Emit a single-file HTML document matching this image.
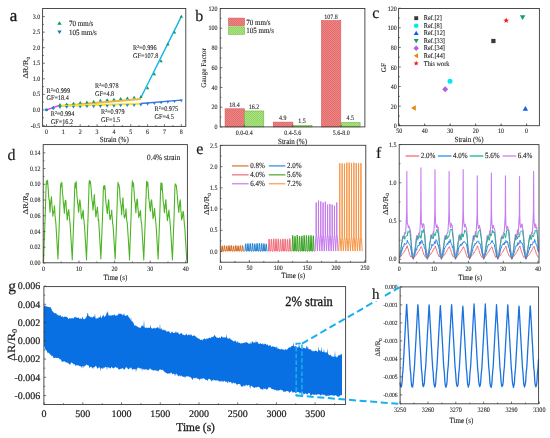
<!DOCTYPE html>
<html><head><meta charset="utf-8"><style>
html,body{margin:0;padding:0;background:#fff;width:550px;height:438px;overflow:hidden;}
svg{display:block;will-change:transform;}
text{font-family:"Liberation Serif", serif;text-rendering:geometricPrecision;}
</style></head><body>
<svg width="550" height="438" viewBox="0 0 550 438">
<defs>
<pattern id="hr" width="2" height="2" patternUnits="userSpaceOnUse"><rect width="2" height="2" fill="#ee8686"/><rect width="1" height="1" fill="#e26c6c"/><rect x="1" y="1" width="1" height="1" fill="#e26c6c"/></pattern>
<pattern id="hg" width="2" height="2" patternUnits="userSpaceOnUse"><rect width="2" height="2" fill="#ace482"/><rect width="1" height="1" fill="#92d266"/><rect x="1" y="1" width="1" height="1" fill="#92d266"/></pattern>
</defs>
<polyline points="46.50,109.90 59.98,105.23" fill="none" stroke="#e83ee8" stroke-width="1.4" stroke-linejoin="round"/>
<polyline points="59.98,106.01 140.86,99.02" fill="none" stroke="#f4b040" stroke-width="1.8" stroke-linejoin="round"/>
<polyline points="59.98,106.01 140.86,103.68" fill="none" stroke="#f2e43a" stroke-width="1.9" stroke-linejoin="round"/>
<polyline points="140.86,97.77 181.30,16.60" fill="none" stroke="#10b4ea" stroke-width="1.4" stroke-linejoin="round"/>
<polyline points="140.86,103.52 181.30,100.10" fill="none" stroke="#4a6cf0" stroke-width="1.4" stroke-linejoin="round"/>
<path d="M44.80,111.00 L48.20,111.00 L46.50,108.10Z" fill="#0e9a6a"/>
<path d="M51.54,108.40 L54.94,108.40 L53.24,105.50Z" fill="#0e9a6a"/>
<path d="M58.28,105.81 L61.68,105.81 L59.98,102.91Z" fill="#0e9a6a"/>
<path d="M65.02,105.32 L68.42,105.32 L66.72,102.42Z" fill="#0e9a6a"/>
<path d="M71.76,104.59 L75.16,104.59 L73.46,101.69Z" fill="#0e9a6a"/>
<path d="M78.50,103.79 L81.90,103.79 L80.20,100.89Z" fill="#0e9a6a"/>
<path d="M85.24,103.52 L88.64,103.52 L86.94,100.62Z" fill="#0e9a6a"/>
<path d="M91.98,102.72 L95.38,102.72 L93.68,99.82Z" fill="#0e9a6a"/>
<path d="M98.72,101.62 L102.12,101.62 L100.42,98.72Z" fill="#0e9a6a"/>
<path d="M105.46,101.07 L108.86,101.07 L107.16,98.17Z" fill="#0e9a6a"/>
<path d="M112.20,100.54 L115.60,100.54 L113.90,97.64Z" fill="#0e9a6a"/>
<path d="M118.94,99.90 L122.34,99.90 L120.64,97.00Z" fill="#0e9a6a"/>
<path d="M125.68,99.32 L129.08,99.32 L127.38,96.42Z" fill="#0e9a6a"/>
<path d="M132.42,98.58 L135.82,98.58 L134.12,95.68Z" fill="#0e9a6a"/>
<path d="M139.16,97.94 L142.56,97.94 L140.86,95.04Z" fill="#0e9a6a"/>
<path d="M145.90,89.23 L149.30,89.23 L147.60,86.33Z" fill="#0e9a6a"/>
<path d="M152.64,75.23 L156.04,75.23 L154.34,72.34Z" fill="#0e9a6a"/>
<path d="M159.38,62.17 L162.78,62.17 L161.08,59.27Z" fill="#0e9a6a"/>
<path d="M166.12,45.38 L169.52,45.38 L167.82,42.48Z" fill="#0e9a6a"/>
<path d="M172.86,33.56 L176.26,33.56 L174.56,30.66Z" fill="#0e9a6a"/>
<path d="M179.60,17.70 L183.00,17.70 L181.30,14.80Z" fill="#0e9a6a"/>
<path d="M44.80,108.80 L48.20,108.80 L46.50,111.70Z" fill="#1a84d8"/>
<path d="M51.54,107.45 L54.94,107.45 L53.24,110.35Z" fill="#1a84d8"/>
<path d="M58.28,106.09 L61.68,106.09 L59.98,108.99Z" fill="#1a84d8"/>
<path d="M65.02,105.89 L68.42,105.89 L66.72,108.79Z" fill="#1a84d8"/>
<path d="M71.76,105.68 L75.16,105.68 L73.46,108.58Z" fill="#1a84d8"/>
<path d="M78.50,105.70 L81.90,105.70 L80.20,108.60Z" fill="#1a84d8"/>
<path d="M85.24,105.22 L88.64,105.22 L86.94,108.12Z" fill="#1a84d8"/>
<path d="M91.98,105.26 L95.38,105.26 L93.68,108.16Z" fill="#1a84d8"/>
<path d="M98.72,104.99 L102.12,104.99 L100.42,107.89Z" fill="#1a84d8"/>
<path d="M105.46,104.80 L108.86,104.80 L107.16,107.70Z" fill="#1a84d8"/>
<path d="M112.20,104.73 L115.60,104.73 L113.90,107.63Z" fill="#1a84d8"/>
<path d="M118.94,104.28 L122.34,104.28 L120.64,107.18Z" fill="#1a84d8"/>
<path d="M125.68,104.14 L129.08,104.14 L127.38,107.04Z" fill="#1a84d8"/>
<path d="M132.42,104.20 L135.82,104.20 L134.12,107.10Z" fill="#1a84d8"/>
<path d="M139.16,103.51 L142.56,103.51 L140.86,106.41Z" fill="#1a84d8"/>
<path d="M145.90,102.83 L149.30,102.83 L147.60,105.73Z" fill="#1a84d8"/>
<path d="M152.64,102.14 L156.04,102.14 L154.34,105.04Z" fill="#1a84d8"/>
<path d="M159.38,101.46 L162.78,101.46 L161.08,104.36Z" fill="#1a84d8"/>
<path d="M166.12,100.78 L169.52,100.78 L167.82,103.68Z" fill="#1a84d8"/>
<path d="M172.86,100.09 L176.26,100.09 L174.56,102.99Z" fill="#1a84d8"/>
<path d="M179.60,99.41 L183.00,99.41 L181.30,102.31Z" fill="#1a84d8"/>
<rect x="42.60" y="8.50" width="143.20" height="117.90" fill="none" stroke="#3a3a3a" stroke-width="0.9"/>
<line x1="46.50" y1="126.40" x2="46.50" y2="124.20" stroke="#3a3a3a" stroke-width="0.7"/>
<line x1="63.35" y1="126.40" x2="63.35" y2="124.20" stroke="#3a3a3a" stroke-width="0.7"/>
<line x1="80.20" y1="126.40" x2="80.20" y2="124.20" stroke="#3a3a3a" stroke-width="0.7"/>
<line x1="97.05" y1="126.40" x2="97.05" y2="124.20" stroke="#3a3a3a" stroke-width="0.7"/>
<line x1="113.90" y1="126.40" x2="113.90" y2="124.20" stroke="#3a3a3a" stroke-width="0.7"/>
<line x1="130.75" y1="126.40" x2="130.75" y2="124.20" stroke="#3a3a3a" stroke-width="0.7"/>
<line x1="147.60" y1="126.40" x2="147.60" y2="124.20" stroke="#3a3a3a" stroke-width="0.7"/>
<line x1="164.45" y1="126.40" x2="164.45" y2="124.20" stroke="#3a3a3a" stroke-width="0.7"/>
<line x1="181.30" y1="126.40" x2="181.30" y2="124.20" stroke="#3a3a3a" stroke-width="0.7"/>
<line x1="54.92" y1="126.40" x2="54.92" y2="125.10" stroke="#3a3a3a" stroke-width="0.7"/>
<line x1="71.78" y1="126.40" x2="71.78" y2="125.10" stroke="#3a3a3a" stroke-width="0.7"/>
<line x1="88.62" y1="126.40" x2="88.62" y2="125.10" stroke="#3a3a3a" stroke-width="0.7"/>
<line x1="105.48" y1="126.40" x2="105.48" y2="125.10" stroke="#3a3a3a" stroke-width="0.7"/>
<line x1="122.33" y1="126.40" x2="122.33" y2="125.10" stroke="#3a3a3a" stroke-width="0.7"/>
<line x1="139.18" y1="126.40" x2="139.18" y2="125.10" stroke="#3a3a3a" stroke-width="0.7"/>
<line x1="156.03" y1="126.40" x2="156.03" y2="125.10" stroke="#3a3a3a" stroke-width="0.7"/>
<line x1="172.88" y1="126.40" x2="172.88" y2="125.10" stroke="#3a3a3a" stroke-width="0.7"/>
<line x1="42.60" y1="125.45" x2="44.80" y2="125.45" stroke="#3a3a3a" stroke-width="0.7"/>
<line x1="42.60" y1="109.90" x2="44.80" y2="109.90" stroke="#3a3a3a" stroke-width="0.7"/>
<line x1="42.60" y1="94.35" x2="44.80" y2="94.35" stroke="#3a3a3a" stroke-width="0.7"/>
<line x1="42.60" y1="78.80" x2="44.80" y2="78.80" stroke="#3a3a3a" stroke-width="0.7"/>
<line x1="42.60" y1="63.25" x2="44.80" y2="63.25" stroke="#3a3a3a" stroke-width="0.7"/>
<line x1="42.60" y1="47.70" x2="44.80" y2="47.70" stroke="#3a3a3a" stroke-width="0.7"/>
<line x1="42.60" y1="32.15" x2="44.80" y2="32.15" stroke="#3a3a3a" stroke-width="0.7"/>
<line x1="42.60" y1="16.60" x2="44.80" y2="16.60" stroke="#3a3a3a" stroke-width="0.7"/>
<line x1="42.60" y1="117.68" x2="43.90" y2="117.68" stroke="#3a3a3a" stroke-width="0.7"/>
<line x1="42.60" y1="102.12" x2="43.90" y2="102.12" stroke="#3a3a3a" stroke-width="0.7"/>
<line x1="42.60" y1="86.58" x2="43.90" y2="86.58" stroke="#3a3a3a" stroke-width="0.7"/>
<line x1="42.60" y1="71.03" x2="43.90" y2="71.03" stroke="#3a3a3a" stroke-width="0.7"/>
<line x1="42.60" y1="55.48" x2="43.90" y2="55.48" stroke="#3a3a3a" stroke-width="0.7"/>
<line x1="42.60" y1="39.92" x2="43.90" y2="39.92" stroke="#3a3a3a" stroke-width="0.7"/>
<line x1="42.60" y1="24.38" x2="43.90" y2="24.38" stroke="#3a3a3a" stroke-width="0.7"/>
<text transform="translate(46.50 133.50) scale(1 1.13)" font-size="6" text-anchor="middle" fill="#1a1a1a" stroke="#1a1a1a" stroke-width="0.084">0</text>
<text transform="translate(63.35 133.50) scale(1 1.13)" font-size="6" text-anchor="middle" fill="#1a1a1a" stroke="#1a1a1a" stroke-width="0.084">1</text>
<text transform="translate(80.20 133.50) scale(1 1.13)" font-size="6" text-anchor="middle" fill="#1a1a1a" stroke="#1a1a1a" stroke-width="0.084">2</text>
<text transform="translate(97.05 133.50) scale(1 1.13)" font-size="6" text-anchor="middle" fill="#1a1a1a" stroke="#1a1a1a" stroke-width="0.084">3</text>
<text transform="translate(113.90 133.50) scale(1 1.13)" font-size="6" text-anchor="middle" fill="#1a1a1a" stroke="#1a1a1a" stroke-width="0.084">4</text>
<text transform="translate(130.75 133.50) scale(1 1.13)" font-size="6" text-anchor="middle" fill="#1a1a1a" stroke="#1a1a1a" stroke-width="0.084">5</text>
<text transform="translate(147.60 133.50) scale(1 1.13)" font-size="6" text-anchor="middle" fill="#1a1a1a" stroke="#1a1a1a" stroke-width="0.084">6</text>
<text transform="translate(164.45 133.50) scale(1 1.13)" font-size="6" text-anchor="middle" fill="#1a1a1a" stroke="#1a1a1a" stroke-width="0.084">7</text>
<text transform="translate(181.30 133.50) scale(1 1.13)" font-size="6" text-anchor="middle" fill="#1a1a1a" stroke="#1a1a1a" stroke-width="0.084">8</text>
<text transform="translate(40.20 127.55) scale(1 1.13)" font-size="6" text-anchor="end" fill="#1a1a1a" stroke="#1a1a1a" stroke-width="0.084">-0.5</text>
<text transform="translate(40.20 112.00) scale(1 1.13)" font-size="6" text-anchor="end" fill="#1a1a1a" stroke="#1a1a1a" stroke-width="0.084">0.0</text>
<text transform="translate(40.20 96.45) scale(1 1.13)" font-size="6" text-anchor="end" fill="#1a1a1a" stroke="#1a1a1a" stroke-width="0.084">0.5</text>
<text transform="translate(40.20 80.90) scale(1 1.13)" font-size="6" text-anchor="end" fill="#1a1a1a" stroke="#1a1a1a" stroke-width="0.084">1.0</text>
<text transform="translate(40.20 65.35) scale(1 1.13)" font-size="6" text-anchor="end" fill="#1a1a1a" stroke="#1a1a1a" stroke-width="0.084">1.5</text>
<text transform="translate(40.20 49.80) scale(1 1.13)" font-size="6" text-anchor="end" fill="#1a1a1a" stroke="#1a1a1a" stroke-width="0.084">2.0</text>
<text transform="translate(40.20 34.25) scale(1 1.13)" font-size="6" text-anchor="end" fill="#1a1a1a" stroke="#1a1a1a" stroke-width="0.084">2.5</text>
<text transform="translate(40.20 18.70) scale(1 1.13)" font-size="6" text-anchor="end" fill="#1a1a1a" stroke="#1a1a1a" stroke-width="0.084">3.0</text>
<text transform="translate(114.30 142.20) scale(1 1.13)" font-size="7" text-anchor="middle" fill="#1a1a1a" stroke="#1a1a1a" stroke-width="0.098">Strain (%)</text>
<text transform="translate(28.00 67.70) rotate(-90) scale(1.13 1)" font-size="7.5" text-anchor="middle" fill="#1a1a1a" stroke="#1a1a1a" stroke-width="0.105">ΔR/R<tspan font-size="4.8" dy="1.6">0</tspan></text>
<text transform="translate(9.80 21.00) scale(1 1.0)" font-size="17" text-anchor="start" fill="#1a1a1a" stroke="#1a1a1a" stroke-width="0.340">a</text>
<path d="M57.3,24.7 L61.7,24.7 L59.5,21.3Z" fill="#0e9a5a"/>
<path d="M57.3,30.5 L61.7,30.5 L59.5,34.1Z" fill="#1878c8"/>
<text transform="translate(69.00 26.00) scale(1 1.13)" font-size="7" text-anchor="start" fill="#1a1a1a" stroke="#1a1a1a" stroke-width="0.098">70 mm/s</text>
<text transform="translate(69.00 34.70) scale(1 1.13)" font-size="7" text-anchor="start" fill="#1a1a1a" stroke="#1a1a1a" stroke-width="0.098">105 mm/s</text>
<text transform="translate(46.50 93.00) scale(1 1.13)" font-size="6.2" text-anchor="start" fill="#1a1a1a" stroke="#1a1a1a" stroke-width="0.087">R<tspan font-size="3.8" dy="-2.2">2</tspan><tspan dy="2.2">=</tspan>0.999</text>
<text transform="translate(46.50 100.30) scale(1 1.13)" font-size="6.2" text-anchor="start" fill="#1a1a1a" stroke="#1a1a1a" stroke-width="0.087">GF=18.4</text>
<text transform="translate(50.80 116.30) scale(1 1.13)" font-size="6.2" text-anchor="start" fill="#1a1a1a" stroke="#1a1a1a" stroke-width="0.087">R<tspan font-size="3.8" dy="-2.2">2</tspan><tspan dy="2.2">=</tspan>0.994</text>
<text transform="translate(50.80 123.60) scale(1 1.13)" font-size="6.2" text-anchor="start" fill="#1a1a1a" stroke="#1a1a1a" stroke-width="0.087">GF=16.2</text>
<text transform="translate(95.00 88.20) scale(1 1.13)" font-size="6.2" text-anchor="start" fill="#1a1a1a" stroke="#1a1a1a" stroke-width="0.087">R<tspan font-size="3.8" dy="-2.2">2</tspan><tspan dy="2.2">=</tspan>0.978</text>
<text transform="translate(95.00 95.80) scale(1 1.13)" font-size="6.2" text-anchor="start" fill="#1a1a1a" stroke="#1a1a1a" stroke-width="0.087">GF=4.8</text>
<text transform="translate(101.00 114.40) scale(1 1.13)" font-size="6.2" text-anchor="start" fill="#1a1a1a" stroke="#1a1a1a" stroke-width="0.087">R<tspan font-size="3.8" dy="-2.2">2</tspan><tspan dy="2.2">=</tspan>0.979</text>
<text transform="translate(101.00 121.70) scale(1 1.13)" font-size="6.2" text-anchor="start" fill="#1a1a1a" stroke="#1a1a1a" stroke-width="0.087">GF=1.5</text>
<text transform="translate(133.00 50.40) scale(1 1.13)" font-size="6.2" text-anchor="start" fill="#1a1a1a" stroke="#1a1a1a" stroke-width="0.087">R<tspan font-size="3.8" dy="-2.2">2</tspan><tspan dy="2.2">=</tspan>0.996</text>
<text transform="translate(133.00 58.20) scale(1 1.13)" font-size="6.2" text-anchor="start" fill="#1a1a1a" stroke="#1a1a1a" stroke-width="0.087">GF=107.8</text>
<text transform="translate(154.60 111.20) scale(1 1.13)" font-size="6.2" text-anchor="start" fill="#1a1a1a" stroke="#1a1a1a" stroke-width="0.087">R<tspan font-size="3.8" dy="-2.2">2</tspan><tspan dy="2.2">=</tspan>0.975</text>
<text transform="translate(154.60 118.60) scale(1 1.13)" font-size="6.2" text-anchor="start" fill="#1a1a1a" stroke="#1a1a1a" stroke-width="0.087">GF=4.5</text>
<rect x="225.10" y="108.79" width="19.40" height="18.11" fill="url(#hr)" stroke="#d85858" stroke-width="0.6"/>
<rect x="244.50" y="110.97" width="19.30" height="15.93" fill="url(#hg)" stroke="#70b840" stroke-width="0.6"/>
<rect x="273.30" y="122.12" width="19.50" height="4.78" fill="url(#hr)" stroke="#d85858" stroke-width="0.6"/>
<rect x="292.80" y="125.47" width="19.20" height="1.43" fill="url(#hg)" stroke="#70b840" stroke-width="0.6"/>
<rect x="321.50" y="20.58" width="19.30" height="106.32" fill="url(#hr)" stroke="#d85858" stroke-width="0.6"/>
<rect x="340.80" y="122.51" width="19.30" height="4.39" fill="url(#hg)" stroke="#70b840" stroke-width="0.6"/>
<rect x="220.20" y="8.50" width="144.70" height="118.40" fill="none" stroke="#3a3a3a" stroke-width="0.9"/>
<line x1="220.20" y1="126.95" x2="222.40" y2="126.95" stroke="#3a3a3a" stroke-width="0.7"/>
<line x1="220.20" y1="107.22" x2="222.40" y2="107.22" stroke="#3a3a3a" stroke-width="0.7"/>
<line x1="220.20" y1="87.48" x2="222.40" y2="87.48" stroke="#3a3a3a" stroke-width="0.7"/>
<line x1="220.20" y1="67.75" x2="222.40" y2="67.75" stroke="#3a3a3a" stroke-width="0.7"/>
<line x1="220.20" y1="48.01" x2="222.40" y2="48.01" stroke="#3a3a3a" stroke-width="0.7"/>
<line x1="220.20" y1="28.28" x2="222.40" y2="28.28" stroke="#3a3a3a" stroke-width="0.7"/>
<line x1="220.20" y1="8.55" x2="222.40" y2="8.55" stroke="#3a3a3a" stroke-width="0.7"/>
<line x1="220.20" y1="117.08" x2="221.50" y2="117.08" stroke="#3a3a3a" stroke-width="0.7"/>
<line x1="220.20" y1="97.35" x2="221.50" y2="97.35" stroke="#3a3a3a" stroke-width="0.7"/>
<line x1="220.20" y1="77.62" x2="221.50" y2="77.62" stroke="#3a3a3a" stroke-width="0.7"/>
<line x1="220.20" y1="57.88" x2="221.50" y2="57.88" stroke="#3a3a3a" stroke-width="0.7"/>
<line x1="220.20" y1="38.15" x2="221.50" y2="38.15" stroke="#3a3a3a" stroke-width="0.7"/>
<line x1="220.20" y1="18.41" x2="221.50" y2="18.41" stroke="#3a3a3a" stroke-width="0.7"/>
<line x1="244.30" y1="126.90" x2="244.30" y2="124.70" stroke="#3a3a3a" stroke-width="0.7"/>
<line x1="292.80" y1="126.90" x2="292.80" y2="124.70" stroke="#3a3a3a" stroke-width="0.7"/>
<line x1="341.20" y1="126.90" x2="341.20" y2="124.70" stroke="#3a3a3a" stroke-width="0.7"/>
<text transform="translate(217.60 129.05) scale(1 1.13)" font-size="6" text-anchor="end" fill="#1a1a1a" stroke="#1a1a1a" stroke-width="0.084">0</text>
<text transform="translate(217.60 109.32) scale(1 1.13)" font-size="6" text-anchor="end" fill="#1a1a1a" stroke="#1a1a1a" stroke-width="0.084">20</text>
<text transform="translate(217.60 89.58) scale(1 1.13)" font-size="6" text-anchor="end" fill="#1a1a1a" stroke="#1a1a1a" stroke-width="0.084">40</text>
<text transform="translate(217.60 69.85) scale(1 1.13)" font-size="6" text-anchor="end" fill="#1a1a1a" stroke="#1a1a1a" stroke-width="0.084">60</text>
<text transform="translate(217.60 50.11) scale(1 1.13)" font-size="6" text-anchor="end" fill="#1a1a1a" stroke="#1a1a1a" stroke-width="0.084">80</text>
<text transform="translate(217.60 30.38) scale(1 1.13)" font-size="6" text-anchor="end" fill="#1a1a1a" stroke="#1a1a1a" stroke-width="0.084">100</text>
<text transform="translate(217.60 10.65) scale(1 1.13)" font-size="6" text-anchor="end" fill="#1a1a1a" stroke="#1a1a1a" stroke-width="0.084">120</text>
<text transform="translate(244.30 134.60) scale(1 1.13)" font-size="6" text-anchor="middle" fill="#1a1a1a" stroke="#1a1a1a" stroke-width="0.084">0.0-0.4</text>
<text transform="translate(292.80 134.60) scale(1 1.13)" font-size="6" text-anchor="middle" fill="#1a1a1a" stroke="#1a1a1a" stroke-width="0.084">0.4-5.6</text>
<text transform="translate(341.20 134.60) scale(1 1.13)" font-size="6" text-anchor="middle" fill="#1a1a1a" stroke="#1a1a1a" stroke-width="0.084">5.6-8.0</text>
<text transform="translate(292.50 144.00) scale(1 1.13)" font-size="7" text-anchor="middle" fill="#1a1a1a" stroke="#1a1a1a" stroke-width="0.098">Strain (%)</text>
<text transform="translate(206.30 67.90) rotate(-90) scale(1.02 1)" font-size="7.2" text-anchor="middle" fill="#1a1a1a" stroke="#1a1a1a" stroke-width="0.101">Gauge Factor</text>
<text transform="translate(234.60 106.70) scale(1 1.13)" font-size="6" text-anchor="middle" fill="#1a1a1a" stroke="#1a1a1a" stroke-width="0.084">18.4</text>
<text transform="translate(254.00 109.30) scale(1 1.13)" font-size="6" text-anchor="middle" fill="#1a1a1a" stroke="#1a1a1a" stroke-width="0.084">16.2</text>
<text transform="translate(282.80 119.80) scale(1 1.13)" font-size="6" text-anchor="middle" fill="#1a1a1a" stroke="#1a1a1a" stroke-width="0.084">4.9</text>
<text transform="translate(302.00 122.90) scale(1 1.13)" font-size="6" text-anchor="middle" fill="#1a1a1a" stroke="#1a1a1a" stroke-width="0.084">1.5</text>
<text transform="translate(331.10 18.50) scale(1 1.13)" font-size="6" text-anchor="middle" fill="#1a1a1a" stroke="#1a1a1a" stroke-width="0.084">107.8</text>
<text transform="translate(350.30 120.20) scale(1 1.13)" font-size="6" text-anchor="middle" fill="#1a1a1a" stroke="#1a1a1a" stroke-width="0.084">4.5</text>
<rect x="228.6" y="18.1" width="15.9" height="7.5" fill="url(#hr)" stroke="#d85858" stroke-width="0.6"/>
<rect x="228.6" y="26.8" width="15.9" height="7.5" fill="url(#hg)" stroke="#70b840" stroke-width="0.6"/>
<text transform="translate(246.20 25.00) scale(1 1.13)" font-size="7" text-anchor="start" fill="#1a1a1a" stroke="#1a1a1a" stroke-width="0.098">70 mm/s</text>
<text transform="translate(246.20 33.20) scale(1 1.13)" font-size="7" text-anchor="start" fill="#1a1a1a" stroke="#1a1a1a" stroke-width="0.098">105 mm/s</text>
<text transform="translate(195.30 20.90) scale(1 1.0)" font-size="16" text-anchor="start" fill="#1a1a1a" stroke="#1a1a1a" stroke-width="0.192">b</text>
<rect x="398.60" y="8.50" width="140.80" height="117.20" fill="none" stroke="#3a3a3a" stroke-width="0.9"/>
<line x1="526.60" y1="125.70" x2="526.60" y2="123.50" stroke="#3a3a3a" stroke-width="0.7"/>
<line x1="501.12" y1="125.70" x2="501.12" y2="123.50" stroke="#3a3a3a" stroke-width="0.7"/>
<line x1="475.64" y1="125.70" x2="475.64" y2="123.50" stroke="#3a3a3a" stroke-width="0.7"/>
<line x1="450.16" y1="125.70" x2="450.16" y2="123.50" stroke="#3a3a3a" stroke-width="0.7"/>
<line x1="424.68" y1="125.70" x2="424.68" y2="123.50" stroke="#3a3a3a" stroke-width="0.7"/>
<line x1="399.20" y1="125.70" x2="399.20" y2="123.50" stroke="#3a3a3a" stroke-width="0.7"/>
<line x1="526.60" y1="125.70" x2="526.60" y2="124.40" stroke="#3a3a3a" stroke-width="0.7"/>
<line x1="501.12" y1="125.70" x2="501.12" y2="124.40" stroke="#3a3a3a" stroke-width="0.7"/>
<line x1="475.64" y1="125.70" x2="475.64" y2="124.40" stroke="#3a3a3a" stroke-width="0.7"/>
<line x1="450.16" y1="125.70" x2="450.16" y2="124.40" stroke="#3a3a3a" stroke-width="0.7"/>
<line x1="424.68" y1="125.70" x2="424.68" y2="124.40" stroke="#3a3a3a" stroke-width="0.7"/>
<line x1="399.20" y1="125.70" x2="399.20" y2="124.40" stroke="#3a3a3a" stroke-width="0.7"/>
<line x1="398.60" y1="125.70" x2="400.80" y2="125.70" stroke="#3a3a3a" stroke-width="0.7"/>
<line x1="398.60" y1="106.12" x2="400.80" y2="106.12" stroke="#3a3a3a" stroke-width="0.7"/>
<line x1="398.60" y1="86.54" x2="400.80" y2="86.54" stroke="#3a3a3a" stroke-width="0.7"/>
<line x1="398.60" y1="66.96" x2="400.80" y2="66.96" stroke="#3a3a3a" stroke-width="0.7"/>
<line x1="398.60" y1="47.38" x2="400.80" y2="47.38" stroke="#3a3a3a" stroke-width="0.7"/>
<line x1="398.60" y1="27.80" x2="400.80" y2="27.80" stroke="#3a3a3a" stroke-width="0.7"/>
<line x1="398.60" y1="8.22" x2="400.80" y2="8.22" stroke="#3a3a3a" stroke-width="0.7"/>
<line x1="398.60" y1="115.91" x2="399.90" y2="115.91" stroke="#3a3a3a" stroke-width="0.7"/>
<line x1="398.60" y1="96.33" x2="399.90" y2="96.33" stroke="#3a3a3a" stroke-width="0.7"/>
<line x1="398.60" y1="76.75" x2="399.90" y2="76.75" stroke="#3a3a3a" stroke-width="0.7"/>
<line x1="398.60" y1="57.17" x2="399.90" y2="57.17" stroke="#3a3a3a" stroke-width="0.7"/>
<line x1="398.60" y1="37.59" x2="399.90" y2="37.59" stroke="#3a3a3a" stroke-width="0.7"/>
<line x1="398.60" y1="18.01" x2="399.90" y2="18.01" stroke="#3a3a3a" stroke-width="0.7"/>
<text transform="translate(526.60 133.40) scale(1 1.13)" font-size="6" text-anchor="middle" fill="#1a1a1a" stroke="#1a1a1a" stroke-width="0.084">0</text>
<text transform="translate(501.12 133.40) scale(1 1.13)" font-size="6" text-anchor="middle" fill="#1a1a1a" stroke="#1a1a1a" stroke-width="0.084">10</text>
<text transform="translate(475.64 133.40) scale(1 1.13)" font-size="6" text-anchor="middle" fill="#1a1a1a" stroke="#1a1a1a" stroke-width="0.084">20</text>
<text transform="translate(450.16 133.40) scale(1 1.13)" font-size="6" text-anchor="middle" fill="#1a1a1a" stroke="#1a1a1a" stroke-width="0.084">30</text>
<text transform="translate(424.68 133.40) scale(1 1.13)" font-size="6" text-anchor="middle" fill="#1a1a1a" stroke="#1a1a1a" stroke-width="0.084">40</text>
<text transform="translate(399.20 133.40) scale(1 1.13)" font-size="6" text-anchor="middle" fill="#1a1a1a" stroke="#1a1a1a" stroke-width="0.084">50</text>
<text transform="translate(396.70 128.30) scale(1 1.13)" font-size="6" text-anchor="end" fill="#1a1a1a" stroke="#1a1a1a" stroke-width="0.084">0</text>
<text transform="translate(396.70 108.72) scale(1 1.13)" font-size="6" text-anchor="end" fill="#1a1a1a" stroke="#1a1a1a" stroke-width="0.084">20</text>
<text transform="translate(396.70 89.14) scale(1 1.13)" font-size="6" text-anchor="end" fill="#1a1a1a" stroke="#1a1a1a" stroke-width="0.084">40</text>
<text transform="translate(396.70 69.56) scale(1 1.13)" font-size="6" text-anchor="end" fill="#1a1a1a" stroke="#1a1a1a" stroke-width="0.084">60</text>
<text transform="translate(396.70 49.98) scale(1 1.13)" font-size="6" text-anchor="end" fill="#1a1a1a" stroke="#1a1a1a" stroke-width="0.084">80</text>
<text transform="translate(396.70 30.40) scale(1 1.13)" font-size="6" text-anchor="end" fill="#1a1a1a" stroke="#1a1a1a" stroke-width="0.084">100</text>
<text transform="translate(396.70 10.82) scale(1 1.13)" font-size="6" text-anchor="end" fill="#1a1a1a" stroke="#1a1a1a" stroke-width="0.084">120</text>
<text transform="translate(469.00 142.20) scale(1 1.13)" font-size="7" text-anchor="middle" fill="#1a1a1a" stroke="#1a1a1a" stroke-width="0.098">Strain (%)</text>
<text transform="translate(385.60 67.70) rotate(-90) scale(1.0 1)" font-size="7" text-anchor="middle" fill="#1a1a1a" stroke="#1a1a1a" stroke-width="0.098">GF</text>
<rect x="491.27" y="38.88" width="4.25" height="4.25" fill="#3a3a3a"/>
<circle cx="450.00" cy="81.30" r="2.50" fill="#00e8f0"/>
<path d="M522.65,110.70 L528.15,110.70 L525.40,105.95Z" fill="#1060e8"/>
<path d="M519.85,15.30 L525.35,15.30 L522.60,20.05Z" fill="#10a060"/>
<path d="M445.20,86.20 L448.20,89.20 L445.20,92.20 L442.20,89.20Z" fill="#b060e0"/>
<path d="M415.80,105.25 L415.80,110.75 L411.05,108.00Z" fill="#e08a10"/>
<polygon points="506.20,17.60 506.93,19.59 509.05,19.67 507.39,20.99 507.96,23.03 506.20,21.85 504.44,23.03 505.01,20.99 503.35,19.67 505.47,19.59" fill="#f01818"/>
<rect x="414.25" y="16.25" width="3.91" height="3.91" fill="#3a3a3a"/>
<text transform="translate(423.80 20.40) scale(1 1.13)" font-size="6.3" text-anchor="start" fill="#1a1a1a" stroke="#1a1a1a" stroke-width="0.088">Ref.[2]</text>
<circle cx="416.20" cy="25.72" r="2.30" fill="#00e8f0"/>
<text transform="translate(423.80 27.92) scale(1 1.13)" font-size="6.3" text-anchor="start" fill="#1a1a1a" stroke="#1a1a1a" stroke-width="0.088">Ref.[8]</text>
<path d="M413.67,35.08 L418.73,35.08 L416.20,30.71Z" fill="#1060e8"/>
<text transform="translate(423.80 35.44) scale(1 1.13)" font-size="6.3" text-anchor="start" fill="#1a1a1a" stroke="#1a1a1a" stroke-width="0.088">Ref.[12]</text>
<path d="M413.67,38.92 L418.73,38.92 L416.20,43.29Z" fill="#10a060"/>
<text transform="translate(423.80 42.96) scale(1 1.13)" font-size="6.3" text-anchor="start" fill="#1a1a1a" stroke="#1a1a1a" stroke-width="0.088">Ref.[33]</text>
<path d="M416.20,45.52 L418.96,48.28 L416.20,51.04 L413.44,48.28Z" fill="#b060e0"/>
<text transform="translate(423.80 50.48) scale(1 1.13)" font-size="6.3" text-anchor="start" fill="#1a1a1a" stroke="#1a1a1a" stroke-width="0.088">Ref.[34]</text>
<path d="M418.04,53.27 L418.04,58.33 L413.67,55.80Z" fill="#e08a10"/>
<text transform="translate(423.80 58.00) scale(1 1.13)" font-size="6.3" text-anchor="start" fill="#1a1a1a" stroke="#1a1a1a" stroke-width="0.088">Ref.[44]</text>
<polygon points="416.20,60.56 416.88,62.39 418.82,62.47 417.29,63.68 417.82,65.55 416.20,64.47 414.58,65.55 415.11,63.68 413.58,62.47 415.52,62.39" fill="#f01818"/>
<text transform="translate(423.80 65.52) scale(1 1.13)" font-size="6.3" text-anchor="start" fill="#1a1a1a" stroke="#1a1a1a" stroke-width="0.088">This work</text>
<text transform="translate(372.30 17.80) scale(1 1.0)" font-size="16" text-anchor="start" fill="#1a1a1a" stroke="#1a1a1a" stroke-width="0.192">c</text>
<polyline points="43.61,260.64 43.61,258.28 43.88,251.14 44.15,243.99 44.41,236.85 44.68,229.71 44.95,222.57 45.22,215.43 45.44,208.02 45.66,200.62 45.88,192.20 46.11,185.46 46.46,181.15 46.73,184.16 47.00,182.82 47.26,182.81 47.53,180.28 47.80,183.16 48.06,187.31 48.30,189.88 48.54,195.32 48.78,197.10 49.04,200.06 49.31,199.69 49.55,203.03 49.78,209.22 50.02,212.18 50.26,209.01 50.50,203.21 50.73,202.43 50.97,199.86 51.21,199.33 51.45,196.70 51.68,200.81 51.92,204.59 52.16,207.30 52.39,210.42 52.63,212.28 52.87,216.27 53.09,214.13 53.31,213.24 53.54,211.55 53.76,211.64 54.00,212.08 54.23,207.77 54.47,205.81 54.74,209.94 55.01,215.15 55.23,216.73 55.45,220.85 55.67,220.55 55.90,224.00 56.12,227.70 56.34,231.40 56.56,235.10 56.79,238.80 57.01,242.70 57.24,246.59 57.47,250.49 57.70,254.38 57.92,258.28 57.92,259.06 58.19,252.07 58.46,245.07 58.73,238.07 58.99,231.07 59.26,224.08 59.53,217.08 59.75,209.83 59.97,202.57 60.19,195.03 60.42,188.92 60.77,184.44 61.04,183.24 61.31,184.62 61.57,186.64 61.84,182.31 62.11,187.28 62.37,191.73 62.61,194.48 62.85,195.92 63.09,198.82 63.35,203.60 63.62,202.89 63.86,208.18 64.10,208.59 64.33,213.16 64.57,208.20 64.81,205.01 65.04,204.08 65.28,200.36 65.52,201.29 65.76,200.42 65.99,201.93 66.23,207.73 66.47,210.64 66.71,212.86 66.94,215.12 67.18,219.96 67.40,219.26 67.63,214.87 67.85,215.90 68.07,212.22 68.31,210.94 68.55,211.45 68.78,209.60 69.05,213.18 69.32,216.51 69.54,218.80 69.76,221.04 69.98,222.90 70.21,225.48 70.43,229.10 70.65,232.73 70.87,236.35 71.10,239.98 71.32,243.80 71.55,247.61 71.78,251.43 72.01,255.25 72.24,259.06 72.24,259.85 72.50,252.78 72.77,245.71 73.04,238.64 73.30,231.57 73.57,224.50 73.84,217.43 74.06,210.11 74.28,202.78 74.51,193.72 74.73,188.10 75.08,183.00 75.35,183.79 75.62,187.61 75.88,185.82 76.15,181.62 76.42,186.88 76.69,190.25 76.92,195.70 77.16,197.46 77.40,200.15 77.66,203.90 77.93,203.09 78.17,206.11 78.41,211.45 78.64,212.30 78.88,210.11 79.12,206.44 79.36,204.90 79.59,201.71 79.83,199.79 80.07,200.80 80.31,204.25 80.54,205.43 80.78,207.90 81.02,213.78 81.25,216.06 81.49,218.61 81.71,218.53 81.94,217.20 82.16,216.24 82.38,214.86 82.62,212.43 82.86,212.05 83.09,210.20 83.36,212.51 83.63,219.29 83.85,219.28 84.07,220.75 84.30,224.54 84.52,225.92 84.74,229.58 84.96,233.24 85.19,236.91 85.41,240.57 85.64,244.43 85.86,248.28 86.09,252.14 86.32,256.00 86.55,259.85 86.55,257.49 86.81,250.35 87.08,243.21 87.35,236.06 87.62,228.92 87.88,221.78 88.15,214.64 88.37,207.24 88.59,199.84 88.82,193.53 89.04,183.84 89.40,180.61 89.66,182.76 89.93,183.73 90.20,181.14 90.46,181.92 90.73,184.56 91.00,188.02 91.23,189.43 91.47,194.36 91.71,196.10 91.98,200.36 92.24,201.26 92.48,203.14 92.72,205.33 92.96,210.16 93.19,208.19 93.43,205.74 93.67,201.28 93.90,200.79 94.14,196.55 94.38,194.61 94.62,200.82 94.85,204.08 95.09,205.64 95.33,209.41 95.57,211.88 95.80,216.81 96.03,216.49 96.25,214.68 96.47,211.53 96.69,212.42 96.93,210.57 97.17,208.73 97.41,207.16 97.67,211.10 97.94,212.98 98.16,218.14 98.38,220.87 98.61,219.32 98.83,223.21 99.05,226.91 99.27,230.61 99.50,234.31 99.72,238.01 99.95,241.91 100.17,245.80 100.40,249.70 100.63,253.60 100.86,257.49 100.86,259.06 101.13,252.36 101.39,245.65 101.66,238.94 101.93,232.23 102.19,225.52 102.46,218.81 102.68,211.86 102.91,204.90 103.13,196.46 103.35,189.08 103.71,186.13 103.97,185.93 104.24,187.85 104.51,189.16 104.77,185.64 105.04,188.57 105.31,192.55 105.55,196.29 105.78,200.37 106.02,203.33 106.29,205.24 106.55,207.34 106.79,208.21 107.03,212.33 107.27,213.20 107.50,213.52 107.74,207.46 107.98,205.61 108.22,202.99 108.45,201.39 108.69,199.67 108.93,204.36 109.17,209.99 109.40,210.53 109.64,215.71 109.88,218.13 110.11,219.63 110.34,219.08 110.56,218.42 110.78,215.25 111.00,215.44 111.24,215.04 111.48,213.93 111.72,210.07 111.98,215.24 112.25,217.70 112.47,221.41 112.70,224.03 112.92,224.71 113.14,226.86 113.36,230.34 113.59,233.81 113.81,237.29 114.03,240.77 114.26,244.43 114.49,248.09 114.71,251.75 114.94,255.41 115.17,259.06 115.17,258.28 115.44,251.42 115.70,244.57 115.97,237.72 116.24,230.86 116.50,224.01 116.77,217.16 116.99,210.05 117.22,202.95 117.44,194.60 117.66,190.04 118.02,182.37 118.28,183.72 118.55,186.05 118.82,184.48 119.09,186.20 119.35,187.12 119.62,189.56 119.86,196.00 120.09,198.37 120.33,201.62 120.60,202.10 120.87,204.00 121.10,206.80 121.34,208.59 121.58,214.63 121.81,211.68 122.05,208.66 122.29,205.92 122.53,204.40 122.76,199.09 123.00,197.82 123.24,204.33 123.48,206.18 123.71,210.41 123.95,213.40 124.19,216.25 124.43,218.07 124.65,217.19 124.87,216.96 125.09,216.50 125.32,214.84 125.55,214.15 125.79,210.96 126.03,208.83 126.29,213.89 126.56,218.81 126.78,220.48 127.01,221.77 127.23,222.91 127.45,225.38 127.67,228.93 127.90,232.48 128.12,236.04 128.34,239.59 128.57,243.32 128.80,247.06 129.03,250.80 129.25,254.54 129.48,258.28 129.48,259.85 129.75,252.71 130.01,245.57 130.28,238.43 130.55,231.28 130.82,224.14 131.08,217.00 131.31,209.60 131.53,202.20 131.75,193.68 131.97,187.86 132.33,180.75 132.60,183.40 132.86,186.10 133.13,184.78 133.40,182.73 133.66,185.43 133.93,190.04 134.17,192.34 134.41,196.64 134.64,200.86 134.91,201.28 135.18,202.21 135.41,207.78 135.65,209.50 135.89,212.62 136.13,207.97 136.36,204.89 136.60,204.25 136.84,200.37 137.08,198.97 137.31,199.24 137.55,202.08 137.79,207.06 138.02,207.98 138.26,211.69 138.50,213.92 138.74,217.41 138.96,216.73 139.18,215.30 139.40,214.80 139.63,215.45 139.86,211.98 140.10,212.72 140.34,210.61 140.61,212.02 140.87,218.79 141.10,220.75 141.32,222.86 141.54,221.93 141.76,225.57 141.99,229.27 142.21,232.97 142.43,236.67 142.65,240.37 142.88,244.27 143.11,248.17 143.34,252.06 143.56,255.96 143.79,259.85 143.79,258.28 144.06,251.35 144.33,244.43 144.59,237.50 144.86,230.58 145.13,223.65 145.39,216.72 145.62,209.55 145.84,202.37 146.06,196.45 146.28,189.89 146.64,181.38 146.91,186.11 147.17,185.15 147.44,184.31 147.71,182.16 147.97,185.10 148.24,189.97 148.48,192.38 148.72,198.65 148.95,199.05 149.22,201.57 149.49,202.28 149.73,207.69 149.96,208.19 150.20,210.48 150.44,211.15 150.67,207.34 150.91,203.63 151.15,200.83 151.39,201.37 151.62,199.85 151.86,203.10 152.10,205.19 152.34,208.17 152.57,212.61 152.81,215.73 153.05,218.64 153.27,217.69 153.49,216.29 153.72,216.48 153.94,213.70 154.18,210.33 154.41,211.02 154.65,208.20 154.92,214.28 155.18,215.97 155.41,217.79 155.63,220.20 155.85,222.89 156.07,225.04 156.30,228.62 156.52,232.21 156.74,235.80 156.96,239.39 157.19,243.17 157.42,246.95 157.65,250.72 157.88,254.50 158.10,258.28 158.10,259.06 158.37,252.21 158.64,245.36 158.90,238.50 159.17,231.65 159.44,224.80 159.71,217.94 159.93,210.84 160.15,203.74 160.37,196.70 160.60,188.97 160.95,182.74 161.22,187.55 161.49,189.63 161.75,185.57 162.02,183.41 162.29,188.34 162.55,192.00 162.79,194.15 163.03,199.49 163.27,202.41 163.53,204.17 163.80,204.15 164.04,208.21 164.27,211.52 164.51,212.71 164.75,208.93 164.99,208.78 165.22,204.43 165.46,203.83 165.70,200.35 165.94,199.67 166.17,204.41 166.41,208.09 166.65,212.34 166.88,213.54 167.12,216.91 167.36,220.73 167.58,218.87 167.80,217.90 168.03,215.00 168.25,216.36 168.49,211.53 168.72,212.04 168.96,210.08 169.23,214.33 169.50,216.63 169.72,218.73 169.94,221.83 170.16,224.19 170.39,226.17 170.61,229.72 170.83,233.27 171.05,236.82 171.28,240.37 171.50,244.11 171.73,247.85 171.96,251.59 172.19,255.33 172.41,259.06 172.41,259.85 172.68,252.85 172.95,245.86 173.22,238.86 173.48,231.86 173.75,224.86 174.02,217.87 174.24,210.61 174.46,203.36 174.68,195.24 174.91,187.45 175.26,183.91 175.53,184.50 175.80,185.52 176.06,185.93 176.33,185.34 176.60,188.76 176.86,190.29 177.10,193.76 177.34,195.96 177.58,199.68 177.84,203.61 178.11,205.35 178.35,208.13 178.59,211.46 178.82,212.48 179.06,209.08 179.30,206.11 179.53,205.85 179.77,201.67 180.01,202.06 180.25,199.85 180.48,202.21 180.72,208.30 180.96,211.83 181.20,211.97 181.43,217.16 181.67,219.96 181.89,217.93 182.12,216.41 182.34,217.90 182.56,215.46 182.80,213.54 183.04,211.81 183.27,211.37 183.54,213.71 183.81,216.07 184.03,220.39 184.25,221.89 184.47,225.66 184.70,226.26 184.92,229.89 185.14,233.52 185.36,237.14 185.59,240.77 185.81,244.58 186.04,248.40 186.27,252.22 186.50,256.04 186.73,259.85 186.73,260.64" fill="none" stroke="#4cb424" stroke-width="1.1" stroke-linejoin="round"/>
<rect x="43.20" y="144.60" width="144.20" height="118.20" fill="none" stroke="#3a3a3a" stroke-width="0.9"/>
<line x1="43.40" y1="262.80" x2="43.40" y2="260.60" stroke="#3a3a3a" stroke-width="0.7"/>
<line x1="79.00" y1="262.80" x2="79.00" y2="260.60" stroke="#3a3a3a" stroke-width="0.7"/>
<line x1="114.60" y1="262.80" x2="114.60" y2="260.60" stroke="#3a3a3a" stroke-width="0.7"/>
<line x1="150.20" y1="262.80" x2="150.20" y2="260.60" stroke="#3a3a3a" stroke-width="0.7"/>
<line x1="185.80" y1="262.80" x2="185.80" y2="260.60" stroke="#3a3a3a" stroke-width="0.7"/>
<line x1="61.20" y1="262.80" x2="61.20" y2="261.50" stroke="#3a3a3a" stroke-width="0.7"/>
<line x1="96.80" y1="262.80" x2="96.80" y2="261.50" stroke="#3a3a3a" stroke-width="0.7"/>
<line x1="132.40" y1="262.80" x2="132.40" y2="261.50" stroke="#3a3a3a" stroke-width="0.7"/>
<line x1="168.00" y1="262.80" x2="168.00" y2="261.50" stroke="#3a3a3a" stroke-width="0.7"/>
<line x1="43.20" y1="263.00" x2="45.40" y2="263.00" stroke="#3a3a3a" stroke-width="0.7"/>
<line x1="43.20" y1="247.26" x2="45.40" y2="247.26" stroke="#3a3a3a" stroke-width="0.7"/>
<line x1="43.20" y1="231.52" x2="45.40" y2="231.52" stroke="#3a3a3a" stroke-width="0.7"/>
<line x1="43.20" y1="215.78" x2="45.40" y2="215.78" stroke="#3a3a3a" stroke-width="0.7"/>
<line x1="43.20" y1="200.04" x2="45.40" y2="200.04" stroke="#3a3a3a" stroke-width="0.7"/>
<line x1="43.20" y1="184.30" x2="45.40" y2="184.30" stroke="#3a3a3a" stroke-width="0.7"/>
<line x1="43.20" y1="168.56" x2="45.40" y2="168.56" stroke="#3a3a3a" stroke-width="0.7"/>
<line x1="43.20" y1="152.82" x2="45.40" y2="152.82" stroke="#3a3a3a" stroke-width="0.7"/>
<line x1="43.20" y1="255.13" x2="44.50" y2="255.13" stroke="#3a3a3a" stroke-width="0.7"/>
<line x1="43.20" y1="239.39" x2="44.50" y2="239.39" stroke="#3a3a3a" stroke-width="0.7"/>
<line x1="43.20" y1="223.65" x2="44.50" y2="223.65" stroke="#3a3a3a" stroke-width="0.7"/>
<line x1="43.20" y1="207.91" x2="44.50" y2="207.91" stroke="#3a3a3a" stroke-width="0.7"/>
<line x1="43.20" y1="192.17" x2="44.50" y2="192.17" stroke="#3a3a3a" stroke-width="0.7"/>
<line x1="43.20" y1="176.43" x2="44.50" y2="176.43" stroke="#3a3a3a" stroke-width="0.7"/>
<line x1="43.20" y1="160.69" x2="44.50" y2="160.69" stroke="#3a3a3a" stroke-width="0.7"/>
<text transform="translate(43.40 271.00) scale(1 1.13)" font-size="6" text-anchor="middle" fill="#1a1a1a" stroke="#1a1a1a" stroke-width="0.084">0</text>
<text transform="translate(79.00 271.00) scale(1 1.13)" font-size="6" text-anchor="middle" fill="#1a1a1a" stroke="#1a1a1a" stroke-width="0.084">10</text>
<text transform="translate(114.60 271.00) scale(1 1.13)" font-size="6" text-anchor="middle" fill="#1a1a1a" stroke="#1a1a1a" stroke-width="0.084">20</text>
<text transform="translate(150.20 271.00) scale(1 1.13)" font-size="6" text-anchor="middle" fill="#1a1a1a" stroke="#1a1a1a" stroke-width="0.084">30</text>
<text transform="translate(185.80 271.00) scale(1 1.13)" font-size="6" text-anchor="middle" fill="#1a1a1a" stroke="#1a1a1a" stroke-width="0.084">40</text>
<text transform="translate(40.60 265.10) scale(1 1.13)" font-size="6" text-anchor="end" fill="#1a1a1a" stroke="#1a1a1a" stroke-width="0.084">0.00</text>
<text transform="translate(40.60 249.36) scale(1 1.13)" font-size="6" text-anchor="end" fill="#1a1a1a" stroke="#1a1a1a" stroke-width="0.084">0.02</text>
<text transform="translate(40.60 233.62) scale(1 1.13)" font-size="6" text-anchor="end" fill="#1a1a1a" stroke="#1a1a1a" stroke-width="0.084">0.04</text>
<text transform="translate(40.60 217.88) scale(1 1.13)" font-size="6" text-anchor="end" fill="#1a1a1a" stroke="#1a1a1a" stroke-width="0.084">0.06</text>
<text transform="translate(40.60 202.14) scale(1 1.13)" font-size="6" text-anchor="end" fill="#1a1a1a" stroke="#1a1a1a" stroke-width="0.084">0.08</text>
<text transform="translate(40.60 186.40) scale(1 1.13)" font-size="6" text-anchor="end" fill="#1a1a1a" stroke="#1a1a1a" stroke-width="0.084">0.10</text>
<text transform="translate(40.60 170.66) scale(1 1.13)" font-size="6" text-anchor="end" fill="#1a1a1a" stroke="#1a1a1a" stroke-width="0.084">0.12</text>
<text transform="translate(40.60 154.92) scale(1 1.13)" font-size="6" text-anchor="end" fill="#1a1a1a" stroke="#1a1a1a" stroke-width="0.084">0.14</text>
<text transform="translate(115.40 279.60) scale(1 1.13)" font-size="7" text-anchor="middle" fill="#1a1a1a" stroke="#1a1a1a" stroke-width="0.098">Time (s)</text>
<text transform="translate(27.80 203.60) rotate(-90) scale(1.13 1)" font-size="7.5" text-anchor="middle" fill="#1a1a1a" stroke="#1a1a1a" stroke-width="0.105">ΔR/R<tspan font-size="4.8" dy="1.6">0</tspan></text>
<text transform="translate(147.00 159.80) scale(1 1.13)" font-size="7.3" text-anchor="start" fill="#1a1a1a" stroke="#1a1a1a" stroke-width="0.102">0.4% strain</text>
<text transform="translate(7.50 160.40) scale(1 1.0)" font-size="16" text-anchor="start" fill="#1a1a1a" stroke="#1a1a1a" stroke-width="0.192">d</text>
<polyline points="221.02,251.50 221.47,251.08 221.98,246.06 222.16,245.77 222.34,246.23 222.84,251.08 223.30,251.50 223.30,251.50 223.75,251.08 224.25,245.86 224.43,245.56 224.62,246.04 225.12,251.08 225.57,251.50 225.57,251.50 226.03,251.08 226.53,246.14 226.71,245.86 226.89,246.31 227.39,251.08 227.85,251.50 227.85,251.50 228.30,251.08 228.80,245.75 228.98,245.45 229.17,245.93 229.67,251.08 230.12,251.50 230.12,251.50 230.58,251.08 231.08,245.74 231.26,245.43 231.44,245.92 231.94,251.08 232.40,251.50 232.40,251.50 232.85,251.08 233.35,246.15 233.54,245.87 233.72,246.32 234.22,251.08 234.67,251.50 234.67,251.50 235.13,251.08 235.63,245.72 235.81,245.42 235.99,245.90 236.49,251.08 236.95,251.50 236.95,251.50 237.41,251.08 237.91,246.01 238.09,245.72 238.27,246.18 238.77,251.08 239.23,251.50 239.23,251.50 239.68,251.08 240.18,245.81 240.36,245.51 240.55,245.99 241.05,251.08 241.50,251.50 241.50,251.50 241.96,251.08 242.46,245.81 242.64,245.52 242.82,245.99 243.32,251.08 243.78,251.50" fill="none" stroke="#d2691e" stroke-width="1.0" stroke-linejoin="round"/>
<polyline points="244.53,251.50 244.99,251.08 245.49,244.10 245.67,243.71 245.85,244.34 246.36,251.08 246.82,251.50 246.82,251.50 247.27,251.08 247.78,243.84 247.96,243.44 248.14,244.08 248.65,251.08 249.10,251.50 249.10,251.50 249.56,251.08 250.06,243.86 250.25,243.45 250.43,244.10 250.93,251.08 251.39,251.50 251.39,251.50 251.85,251.08 252.35,243.75 252.53,243.34 252.72,244.00 253.22,251.08 253.68,251.50 253.68,251.50 254.13,251.08 254.64,244.12 254.82,243.73 255.00,244.36 255.51,251.08 255.96,251.50 255.96,251.50 256.42,251.08 256.93,243.79 257.11,243.38 257.29,244.03 257.79,251.08 258.25,251.50 258.25,251.50 258.71,251.08 259.21,243.64 259.40,243.23 259.58,243.89 260.08,251.08 260.54,251.50 260.54,251.50 261.00,251.08 261.50,243.84 261.68,243.44 261.87,244.08 262.37,251.08 262.83,251.50 262.83,251.50 263.28,251.08 263.79,243.94 263.97,243.54 264.15,244.18 264.66,251.08 265.11,251.50 265.11,251.50 265.57,251.08 266.07,244.23 266.26,243.85 266.44,244.46 266.94,251.08 267.40,251.50" fill="none" stroke="#1f7fd0" stroke-width="1.0" stroke-linejoin="round"/>
<polyline points="267.98,251.50 268.44,251.08 268.94,239.60 269.13,238.98 269.31,239.98 269.82,251.08 270.28,251.50 270.28,251.50 270.74,251.08 271.24,239.76 271.43,239.14 271.61,240.13 272.12,251.08 272.58,251.50 272.58,251.50 273.04,251.08 273.54,239.36 273.73,238.72 273.91,239.74 274.42,251.08 274.88,251.50 274.88,251.50 275.34,251.08 275.84,239.40 276.02,238.77 276.21,239.79 276.71,251.08 277.17,251.50 277.17,251.50 277.63,251.08 278.14,239.53 278.32,238.89 278.51,239.90 279.01,251.08 279.47,251.50 279.47,251.50 279.93,251.08 280.44,239.94 280.62,239.33 280.81,240.31 281.31,251.08 281.77,251.50 281.77,251.50 282.23,251.08 282.74,239.44 282.92,238.80 283.11,239.82 283.61,251.08 284.07,251.50 284.07,251.50 284.53,251.08 285.04,239.45 285.22,238.82 285.40,239.84 285.91,251.08 286.37,251.50 286.37,251.50 286.83,251.08 287.34,239.95 287.52,239.34 287.70,240.31 288.21,251.08 288.67,251.50 288.67,251.50 289.13,251.08 289.63,239.17 289.82,238.52 290.00,239.56 290.51,251.08 290.97,251.50" fill="none" stroke="#f06a78" stroke-width="1.0" stroke-linejoin="round"/>
<polyline points="291.60,251.50 292.06,251.08 292.56,236.21 292.75,235.40 292.93,236.69 293.43,251.08 293.89,251.50 293.89,251.50 294.35,251.08 294.85,236.94 295.03,236.18 295.22,237.40 295.72,251.08 296.18,251.50 296.18,251.50 296.63,251.08 297.14,235.83 297.32,235.00 297.50,236.32 298.01,251.08 298.46,251.50 298.46,251.50 298.92,251.08 299.43,236.92 299.61,236.15 299.79,237.38 300.29,251.08 300.75,251.50 300.75,251.50 301.21,251.08 301.71,236.66 301.90,235.87 302.08,237.12 302.58,251.08 303.04,251.50 303.04,251.50 303.50,251.08 304.00,236.12 304.18,235.31 304.37,236.61 304.87,251.08 305.33,251.50 305.33,251.50 305.78,251.08 306.29,236.29 306.47,235.49 306.65,236.77 307.16,251.08 307.61,251.50 307.61,251.50 308.07,251.08 308.57,236.35 308.76,235.55 308.94,236.83 309.44,251.08 309.90,251.50 309.90,251.50 310.36,251.08 310.86,236.22 311.04,235.42 311.23,236.70 311.73,251.08 312.19,251.50 312.19,251.50 312.65,251.08 313.15,236.48 313.33,235.69 313.51,236.96 314.02,251.08 314.48,251.50" fill="none" stroke="#38a020" stroke-width="1.0" stroke-linejoin="round"/>
<polyline points="315.11,251.08 315.68,238.61 316.07,235.39 316.19,202.53 316.30,233.78 316.76,237.80 317.40,251.08 317.40,251.08 317.97,238.61 318.36,235.39 318.47,200.62 318.59,233.78 319.05,237.80 319.69,251.08 319.69,251.08 320.26,238.61 320.65,235.39 320.76,201.47 320.87,233.78 321.33,237.80 321.97,251.08 321.97,251.08 322.54,238.61 322.93,235.39 323.05,202.53 323.16,233.78 323.62,237.80 324.26,251.08 324.26,251.08 324.83,238.61 325.22,235.39 325.34,201.68 325.45,233.78 325.91,237.80 326.55,251.08 326.55,251.08 327.12,238.61 327.51,235.39 327.62,204.65 327.74,233.78 328.19,237.80 328.83,251.08 328.83,251.08 329.41,238.61 329.80,235.39 329.91,204.01 330.02,233.78 330.48,237.80 331.12,251.08 331.12,251.08 331.69,238.61 332.08,235.39 332.20,204.65 332.31,233.78 332.77,237.80 333.41,251.08 333.41,251.08 333.98,238.61 334.37,235.39 334.48,205.71 334.60,233.78 335.06,237.80 335.70,251.08 335.70,251.08 336.27,238.61 336.66,235.39 336.77,202.53 336.89,233.78 337.34,237.80 337.98,251.08" fill="none" stroke="#c478ec" stroke-width="1.0" stroke-linejoin="round"/>
<polyline points="338.68,251.08 339.26,240.65 339.66,237.93 339.78,163.27 339.90,236.58 340.37,239.97 341.03,251.08 341.03,251.08 341.62,240.65 342.02,237.93 342.13,163.49 342.25,236.58 342.72,239.97 343.38,251.08 343.38,251.08 343.97,240.65 344.37,237.93 344.48,163.66 344.60,236.58 345.07,239.97 345.73,251.08 345.73,251.08 346.32,240.65 346.72,237.93 346.83,162.63 346.95,236.58 347.42,239.97 348.08,251.08 348.08,251.08 348.67,240.65 349.07,237.93 349.19,162.57 349.30,236.58 349.77,239.97 350.43,251.08 350.43,251.08 351.02,240.65 351.42,237.93 351.54,162.90 351.65,236.58 352.12,239.97 352.78,251.08 352.78,251.08 353.37,240.65 353.77,237.93 353.89,162.59 354.00,236.58 354.47,239.97 355.13,251.08 355.13,251.08 355.72,240.65 356.12,237.93 356.24,163.20 356.36,236.58 356.83,239.97 357.48,251.08 357.48,251.08 358.07,240.65 358.47,237.93 358.59,163.35 358.71,236.58 359.18,239.97 359.83,251.08 359.83,251.08 360.42,240.65 360.82,237.93 360.94,163.16 361.06,236.58 361.53,239.97 362.19,251.08" fill="none" stroke="#f89444" stroke-width="1.0" stroke-linejoin="round"/>
<rect x="220.30" y="145.30" width="145.50" height="116.90" fill="none" stroke="#3a3a3a" stroke-width="0.9"/>
<line x1="220.50" y1="262.20" x2="220.50" y2="260.00" stroke="#3a3a3a" stroke-width="0.7"/>
<line x1="249.38" y1="262.20" x2="249.38" y2="260.00" stroke="#3a3a3a" stroke-width="0.7"/>
<line x1="278.26" y1="262.20" x2="278.26" y2="260.00" stroke="#3a3a3a" stroke-width="0.7"/>
<line x1="307.14" y1="262.20" x2="307.14" y2="260.00" stroke="#3a3a3a" stroke-width="0.7"/>
<line x1="336.02" y1="262.20" x2="336.02" y2="260.00" stroke="#3a3a3a" stroke-width="0.7"/>
<line x1="364.90" y1="262.20" x2="364.90" y2="260.00" stroke="#3a3a3a" stroke-width="0.7"/>
<line x1="234.94" y1="262.20" x2="234.94" y2="260.90" stroke="#3a3a3a" stroke-width="0.7"/>
<line x1="263.82" y1="262.20" x2="263.82" y2="260.90" stroke="#3a3a3a" stroke-width="0.7"/>
<line x1="292.70" y1="262.20" x2="292.70" y2="260.90" stroke="#3a3a3a" stroke-width="0.7"/>
<line x1="321.58" y1="262.20" x2="321.58" y2="260.90" stroke="#3a3a3a" stroke-width="0.7"/>
<line x1="350.46" y1="262.20" x2="350.46" y2="260.90" stroke="#3a3a3a" stroke-width="0.7"/>
<line x1="220.30" y1="251.50" x2="222.50" y2="251.50" stroke="#3a3a3a" stroke-width="0.7"/>
<line x1="220.30" y1="230.30" x2="222.50" y2="230.30" stroke="#3a3a3a" stroke-width="0.7"/>
<line x1="220.30" y1="209.10" x2="222.50" y2="209.10" stroke="#3a3a3a" stroke-width="0.7"/>
<line x1="220.30" y1="187.90" x2="222.50" y2="187.90" stroke="#3a3a3a" stroke-width="0.7"/>
<line x1="220.30" y1="166.70" x2="222.50" y2="166.70" stroke="#3a3a3a" stroke-width="0.7"/>
<line x1="220.30" y1="145.50" x2="222.50" y2="145.50" stroke="#3a3a3a" stroke-width="0.7"/>
<line x1="220.30" y1="262.10" x2="221.60" y2="262.10" stroke="#3a3a3a" stroke-width="0.7"/>
<line x1="220.30" y1="240.90" x2="221.60" y2="240.90" stroke="#3a3a3a" stroke-width="0.7"/>
<line x1="220.30" y1="219.70" x2="221.60" y2="219.70" stroke="#3a3a3a" stroke-width="0.7"/>
<line x1="220.30" y1="198.50" x2="221.60" y2="198.50" stroke="#3a3a3a" stroke-width="0.7"/>
<line x1="220.30" y1="177.30" x2="221.60" y2="177.30" stroke="#3a3a3a" stroke-width="0.7"/>
<line x1="220.30" y1="156.10" x2="221.60" y2="156.10" stroke="#3a3a3a" stroke-width="0.7"/>
<text transform="translate(220.50 269.50) scale(1 1.13)" font-size="6" text-anchor="middle" fill="#1a1a1a" stroke="#1a1a1a" stroke-width="0.084">0</text>
<text transform="translate(249.38 269.50) scale(1 1.13)" font-size="6" text-anchor="middle" fill="#1a1a1a" stroke="#1a1a1a" stroke-width="0.084">50</text>
<text transform="translate(278.26 269.50) scale(1 1.13)" font-size="6" text-anchor="middle" fill="#1a1a1a" stroke="#1a1a1a" stroke-width="0.084">100</text>
<text transform="translate(307.14 269.50) scale(1 1.13)" font-size="6" text-anchor="middle" fill="#1a1a1a" stroke="#1a1a1a" stroke-width="0.084">150</text>
<text transform="translate(336.02 269.50) scale(1 1.13)" font-size="6" text-anchor="middle" fill="#1a1a1a" stroke="#1a1a1a" stroke-width="0.084">200</text>
<text transform="translate(364.90 269.50) scale(1 1.13)" font-size="6" text-anchor="middle" fill="#1a1a1a" stroke="#1a1a1a" stroke-width="0.084">250</text>
<text transform="translate(217.60 253.60) scale(1 1.13)" font-size="6" text-anchor="end" fill="#1a1a1a" stroke="#1a1a1a" stroke-width="0.084">0.0</text>
<text transform="translate(217.60 232.40) scale(1 1.13)" font-size="6" text-anchor="end" fill="#1a1a1a" stroke="#1a1a1a" stroke-width="0.084">0.5</text>
<text transform="translate(217.60 211.20) scale(1 1.13)" font-size="6" text-anchor="end" fill="#1a1a1a" stroke="#1a1a1a" stroke-width="0.084">1.0</text>
<text transform="translate(217.60 190.00) scale(1 1.13)" font-size="6" text-anchor="end" fill="#1a1a1a" stroke="#1a1a1a" stroke-width="0.084">1.5</text>
<text transform="translate(217.60 168.80) scale(1 1.13)" font-size="6" text-anchor="end" fill="#1a1a1a" stroke="#1a1a1a" stroke-width="0.084">2.0</text>
<text transform="translate(217.60 147.60) scale(1 1.13)" font-size="6" text-anchor="end" fill="#1a1a1a" stroke="#1a1a1a" stroke-width="0.084">2.5</text>
<text transform="translate(293.20 277.90) scale(1 1.13)" font-size="7" text-anchor="middle" fill="#1a1a1a" stroke="#1a1a1a" stroke-width="0.098">Time (s)</text>
<text transform="translate(209.00 204.00) rotate(-90) scale(1.13 1)" font-size="7.5" text-anchor="middle" fill="#1a1a1a" stroke="#1a1a1a" stroke-width="0.105">ΔR/R<tspan font-size="4.8" dy="1.6">0</tspan></text>
<line x1="232.00" y1="165.90" x2="248.60" y2="165.90" stroke="#d2691e" stroke-width="1.5" stroke-opacity="0.75"/>
<text transform="translate(250.20 168.20) scale(1 1.13)" font-size="7" text-anchor="start" fill="#1a1a1a" stroke="#1a1a1a" stroke-width="0.098">0.8%</text>
<line x1="268.80" y1="165.90" x2="285.40" y2="165.90" stroke="#1f7fd0" stroke-width="1.5" stroke-opacity="0.75"/>
<text transform="translate(287.00 168.20) scale(1 1.13)" font-size="7" text-anchor="start" fill="#1a1a1a" stroke="#1a1a1a" stroke-width="0.098">2.0%</text>
<line x1="232.00" y1="174.80" x2="248.60" y2="174.80" stroke="#f06070" stroke-width="1.5" stroke-opacity="0.75"/>
<text transform="translate(250.20 177.10) scale(1 1.13)" font-size="7" text-anchor="start" fill="#1a1a1a" stroke="#1a1a1a" stroke-width="0.098">4.0%</text>
<line x1="268.80" y1="174.80" x2="285.40" y2="174.80" stroke="#38a020" stroke-width="1.5" stroke-opacity="0.75"/>
<text transform="translate(287.00 177.10) scale(1 1.13)" font-size="7" text-anchor="start" fill="#1a1a1a" stroke="#1a1a1a" stroke-width="0.098">5.6%</text>
<line x1="232.00" y1="183.70" x2="248.60" y2="183.70" stroke="#c070e8" stroke-width="1.5" stroke-opacity="0.75"/>
<text transform="translate(250.20 186.00) scale(1 1.13)" font-size="7" text-anchor="start" fill="#1a1a1a" stroke="#1a1a1a" stroke-width="0.098">6.4%</text>
<line x1="268.80" y1="183.70" x2="285.40" y2="183.70" stroke="#f89040" stroke-width="1.5" stroke-opacity="0.75"/>
<text transform="translate(287.00 186.00) scale(1 1.13)" font-size="7" text-anchor="start" fill="#1a1a1a" stroke="#1a1a1a" stroke-width="0.098">7.2%</text>
<text transform="translate(196.30 154.40) scale(1 1.0)" font-size="16" text-anchor="start" fill="#1a1a1a" stroke="#1a1a1a" stroke-width="0.192">e</text>
<polyline points="399.70,254.33 400.24,253.18 400.70,250.12 401.17,247.06 401.63,242.29 402.15,242.28 402.67,236.33 403.19,238.66 403.71,237.41 404.23,235.87 404.75,232.53 405.19,233.35 405.62,233.86 406.31,219.80 406.63,211.87 406.83,171.33 407.04,211.87 407.35,223.26 408.05,225.58 408.48,227.80 408.92,225.93 409.44,227.86 409.96,228.95 410.39,230.48 410.82,235.31 411.34,244.68 411.87,251.55 412.33,252.29 412.79,253.69 413.25,255.48 413.25,255.48 413.79,254.33 414.33,253.18 414.79,250.12 415.25,247.06 415.72,242.88 416.24,238.73 416.76,235.21 417.28,237.08 417.80,240.27 418.32,235.67 418.84,233.17 419.27,232.78 419.71,233.74 420.40,222.42 420.71,209.97 420.92,167.81 421.13,209.97 421.44,223.73 422.14,225.88 422.57,228.18 423.00,223.48 423.52,224.23 424.05,225.11 424.48,232.30 424.91,236.11 425.43,242.85 425.95,249.51 426.42,249.72 426.88,253.69 427.34,255.48 427.34,255.48 427.88,254.33 428.42,253.18 428.88,250.12 429.34,247.06 429.81,243.14 430.33,241.10 430.85,234.70 431.37,237.57 431.89,238.18 432.41,234.16 432.93,234.04 433.36,231.67 433.80,233.31 434.49,221.09 434.80,210.92 435.01,169.57 435.22,210.92 435.53,222.47 436.22,227.35 436.66,227.43 437.09,224.74 437.61,228.15 438.13,227.17 438.57,231.09 439.00,236.61 439.52,242.93 440.04,248.01 440.50,250.11 440.97,253.69 441.43,255.48 441.43,255.48 441.97,254.33 442.51,253.18 442.97,250.12 443.43,247.06 443.89,245.67 444.41,238.83 444.93,235.78 445.46,239.56 445.98,239.29 446.50,236.43 447.02,233.70 447.45,232.73 447.88,232.08 448.58,221.86 448.89,211.87 449.10,171.33 449.31,211.87 449.62,220.88 450.31,226.28 450.75,227.70 451.18,223.23 451.70,225.56 452.22,225.21 452.66,230.77 453.09,235.25 453.61,243.95 454.13,248.71 454.59,249.92 455.06,253.69 455.52,255.48 455.52,255.48 456.06,254.33 456.59,253.18 457.06,250.12 457.52,247.06 457.98,242.34 458.50,240.46 459.02,235.17 459.54,237.57 460.06,240.44 460.58,237.30 461.10,233.70 461.54,234.28 461.97,235.61 462.67,221.06 462.98,210.92 463.19,169.57 463.39,210.92 463.71,221.67 464.40,227.00 464.84,226.38 465.27,224.19 465.79,226.92 466.31,227.33 466.74,230.58 467.18,236.80 467.70,244.70 468.22,248.29 468.68,250.90 469.14,253.69 469.61,255.48 469.61,255.48 470.14,254.33 470.68,253.18 471.14,250.12 471.61,247.06 472.07,244.61 472.59,240.77 473.11,236.22 473.63,237.05 474.15,239.91 474.67,237.49 475.19,233.10 475.63,231.61 476.06,235.69 476.75,221.23 477.07,214.24 477.27,175.72 477.48,214.24 477.80,223.98 478.49,228.50 478.92,227.53 479.36,225.32 479.88,227.55 480.40,229.34 480.83,233.55 481.27,237.87 481.79,243.28 482.31,252.14 482.77,254.10 483.23,253.69 483.69,255.48 483.69,255.48 484.23,254.33 484.77,253.18 485.23,250.12 485.70,247.06 486.16,244.24 486.68,240.60 487.20,235.42 487.72,239.56 488.24,239.09 488.76,235.68 489.28,233.93 489.71,230.77 490.15,235.35 490.84,222.91 491.15,212.82 491.36,173.08 491.57,212.82 491.88,222.70 492.58,228.71 493.01,225.46 493.45,225.58 493.97,227.75 494.49,229.23 494.92,230.71 495.35,237.38 495.87,241.91 496.39,250.28 496.86,249.92 497.32,253.69 497.78,255.48 497.78,255.48 498.32,254.33 498.86,253.18 499.32,250.12 499.78,247.06 500.25,244.92 500.77,241.32 501.29,237.42 501.81,236.05 502.33,238.05 502.85,235.92 503.37,233.62 503.80,232.07 504.24,231.90 504.93,220.63 505.24,214.24 505.45,175.72 505.66,214.24 505.97,224.86 506.67,229.33 507.10,227.90 507.53,226.39 508.05,228.15 508.57,229.22 509.01,231.05 509.44,234.51 509.96,244.61 510.48,247.95 510.95,252.01 511.41,253.69 511.87,255.48 511.87,255.48 512.41,254.33 512.95,253.18 513.41,250.12 513.87,247.06 514.33,242.61 514.86,238.26 515.38,234.33 515.90,239.64 516.42,239.54 516.94,234.71 517.46,229.71 517.89,234.80 518.33,235.00 519.02,219.44 519.33,214.72 519.54,176.60 519.75,214.72 520.06,224.35 520.75,227.68 521.19,226.78 521.62,224.05 522.14,224.06 522.66,228.66 523.10,230.66 523.53,235.28 524.05,241.69 524.57,249.88 525.03,249.96 525.50,253.69 525.96,255.48 525.96,255.48 526.50,254.33 527.03,253.18 527.50,250.12 527.96,247.06 528.42,244.63 528.94,240.57 529.46,237.59 529.98,236.21 530.50,238.73 531.03,236.26 531.55,233.28 531.98,231.89 532.41,233.57 533.11,220.08 533.42,211.87 533.63,171.33 533.84,211.87 534.15,223.10 534.84,227.23 535.28,227.61 535.71,223.91 536.23,228.21 536.75,227.32 537.18,230.57 537.62,235.54 538.14,245.08 538.66,251.33" fill="none" stroke="#c77ff0" stroke-width="1.1" stroke-linejoin="round"/>
<polyline points="399.64,256.75 400.11,254.97 400.59,253.18 401.05,249.61 401.51,244.73 401.98,241.93 402.44,238.98 402.90,236.97 403.36,236.54 403.83,235.60 404.29,236.99 404.75,239.28 405.27,237.23 405.79,236.46 406.31,236.35 406.83,235.37 407.35,235.95 407.88,231.50 408.40,232.49 408.92,231.83 409.44,230.42 409.96,232.75 410.48,237.69 411.00,241.50 411.52,246.12 412.04,252.85 412.65,255.86 413.25,258.54 413.25,258.54 413.73,256.75 414.20,254.97 414.68,253.18 415.14,249.61 415.60,247.91 416.06,243.50 416.53,238.64 416.99,239.46 417.45,236.11 417.91,237.42 418.38,236.80 418.84,238.25 419.36,235.63 419.88,234.69 420.40,237.16 420.92,238.35 421.44,236.05 421.96,230.51 422.48,232.48 423.00,232.05 423.52,229.21 424.05,232.91 424.57,234.46 425.09,241.76 425.61,246.81 426.13,254.24 426.73,255.86 427.34,258.54 427.34,258.54 427.82,256.75 428.29,254.97 428.76,253.18 429.23,249.61 429.69,244.78 430.15,242.03 430.62,239.89 431.08,237.39 431.54,234.93 432.00,237.70 432.47,237.49 432.93,238.85 433.45,238.22 433.97,233.54 434.49,235.61 435.01,235.91 435.53,235.56 436.05,231.61 436.57,231.13 437.09,229.36 437.61,232.61 438.13,232.35 438.65,236.03 439.17,241.81 439.69,246.48 440.22,252.28 440.82,255.86 441.43,258.54 441.43,258.54 441.90,256.75 442.38,254.97 442.85,253.18 443.32,249.61 443.78,246.34 444.24,241.90 444.70,240.03 445.17,239.48 445.63,236.92 446.09,235.22 446.55,238.51 447.02,238.91 447.54,238.32 448.06,235.90 448.58,237.25 449.10,235.47 449.62,233.57 450.14,230.33 450.66,229.13 451.18,229.80 451.70,229.35 452.22,231.62 452.74,236.28 453.26,238.46 453.78,245.14 454.30,251.46 454.91,255.86 455.52,258.54 455.52,258.54 455.99,256.75 456.47,254.97 456.94,253.18 457.40,249.61 457.87,246.10 458.33,241.42 458.79,240.79 459.25,236.49 459.72,234.74 460.18,237.91 460.64,236.22 461.10,239.85 461.63,238.28 462.15,233.97 462.67,236.75 463.19,237.04 463.71,233.90 464.23,233.52 464.75,230.06 465.27,231.09 465.79,231.25 466.31,232.35 466.83,235.04 467.35,239.23 467.87,247.49 468.39,254.70 469.00,255.86 469.61,258.54 469.61,258.54 470.08,256.75 470.55,254.97 471.03,253.18 471.49,249.61 471.95,246.81 472.42,242.81 472.88,242.05 473.34,239.72 473.80,235.35 474.27,236.35 474.73,236.06 475.19,236.81 475.71,235.29 476.23,235.31 476.75,237.26 477.27,237.83 477.80,234.58 478.32,231.66 478.84,230.83 479.36,230.77 479.88,229.65 480.40,232.58 480.92,236.11 481.44,238.70 481.96,245.50 482.48,253.95 483.09,255.86 483.69,258.54 483.69,258.54 484.17,256.75 484.64,254.97 485.12,253.18 485.58,249.61 486.04,247.02 486.51,241.30 486.97,242.30 487.43,239.80 487.89,236.23 488.36,236.98 488.82,239.16 489.28,240.37 489.80,237.86 490.32,233.79 490.84,236.10 491.36,235.28 491.88,233.35 492.40,229.93 492.92,232.77 493.45,231.43 493.97,232.86 494.49,232.02 495.01,236.59 495.53,241.89 496.05,246.50 496.57,254.73 497.18,255.86 497.78,258.54 497.78,258.54 498.26,256.75 498.73,254.97 499.21,253.18 499.67,249.61 500.13,246.76 500.59,243.44 501.06,239.27 501.52,238.70 501.98,237.27 502.44,238.86 502.91,238.15 503.37,238.16 503.89,236.06 504.41,233.24 504.93,234.79 505.45,238.08 505.97,235.83 506.49,230.77 507.01,229.89 507.53,230.20 508.05,229.73 508.57,231.56 509.09,236.81 509.62,241.44 510.14,248.52 510.66,252.63 511.26,255.86 511.87,258.54 511.87,258.54 512.35,256.75 512.82,254.97 513.29,253.18 513.76,249.61 514.22,244.52 514.68,240.92 515.14,240.55 515.61,237.76 516.07,234.71 516.53,235.91 516.99,237.49 517.46,238.97 517.98,236.66 518.50,236.08 519.02,237.18 519.54,236.41 520.06,232.56 520.58,231.58 521.10,231.35 521.62,230.80 522.14,231.17 522.66,230.60 523.18,236.15 523.70,238.42 524.22,248.00 524.74,253.89 525.35,255.86 525.96,258.54 525.96,258.54 526.43,256.75 526.91,254.97 527.38,253.18 527.84,249.61 528.31,245.96 528.77,242.81 529.23,239.09 529.70,237.14 530.16,234.70 530.62,236.68 531.08,239.68 531.55,238.36 532.07,236.54 532.59,234.87 533.11,236.81 533.63,236.31 534.15,232.86 534.67,233.28 535.19,230.35 535.71,230.72 536.23,230.94 536.75,230.25 537.27,234.21 537.79,239.63 538.31,247.84" fill="none" stroke="#1fb08c" stroke-width="1.0" stroke-linejoin="round"/>
<polyline points="399.64,258.03 400.11,256.75 400.59,255.48 401.05,253.69 401.51,250.62 401.98,251.10 402.44,249.20 402.90,246.57 403.36,246.86 403.80,246.42 404.23,243.77 404.67,243.22 405.10,244.56 405.53,243.95 405.97,243.90 406.40,243.98 406.83,243.23 407.35,240.24 407.88,242.23 408.34,242.53 408.80,243.39 409.26,244.52 409.73,244.68 410.19,245.55 410.65,246.79 411.11,249.97 411.58,251.95 412.04,256.99 412.65,257.39 413.25,259.30 413.25,259.30 413.73,258.03 414.20,256.75 414.68,255.48 415.14,253.69 415.60,252.57 416.06,248.71 416.53,250.16 416.99,248.28 417.45,246.35 417.89,246.43 418.32,245.01 418.75,245.96 419.19,244.81 419.62,242.22 420.05,244.32 420.49,241.61 420.92,243.46 421.44,240.20 421.96,240.41 422.43,241.26 422.89,243.56 423.35,244.60 423.81,243.97 424.28,247.29 424.74,248.77 425.20,249.39 425.66,251.78 426.13,256.86 426.73,257.39 427.34,259.30 427.34,259.30 427.82,258.03 428.29,256.75 428.76,255.48 429.23,253.69 429.69,250.50 430.15,250.01 430.62,249.20 431.08,248.77 431.54,246.63 431.97,244.23 432.41,245.82 432.84,245.70 433.28,245.09 433.71,244.76 434.14,243.69 434.58,241.58 435.01,243.76 435.53,242.65 436.05,239.60 436.51,240.18 436.98,241.00 437.44,244.01 437.90,245.21 438.36,244.92 438.83,247.87 439.29,249.75 439.75,253.50 440.22,256.94 440.82,257.39 441.43,259.30 441.43,259.30 441.90,258.03 442.38,256.75 442.85,255.48 443.32,253.69 443.78,252.38 444.24,249.36 444.70,247.98 445.17,247.36 445.63,246.40 446.06,245.60 446.50,245.32 446.93,244.47 447.36,242.98 447.80,244.53 448.23,242.95 448.66,241.53 449.10,241.40 449.62,242.69 450.14,239.52 450.60,240.66 451.06,243.49 451.53,243.95 451.99,245.68 452.45,247.66 452.92,246.36 453.38,250.65 453.84,251.78 454.30,256.65 454.91,257.39 455.52,259.30 455.52,259.30 455.99,258.03 456.47,256.75 456.94,255.48 457.40,253.69 457.87,253.39 458.33,248.99 458.79,247.95 459.25,246.07 459.72,245.73 460.15,245.64 460.58,244.33 461.02,245.82 461.45,243.88 461.89,243.80 462.32,244.32 462.75,242.55 463.19,243.01 463.71,241.69 464.23,241.33 464.69,242.26 465.15,242.90 465.62,242.93 466.08,243.29 466.54,244.96 467.00,246.72 467.47,249.35 467.93,253.58 468.39,254.02 469.00,257.39 469.61,259.30 469.61,259.30 470.08,258.03 470.55,256.75 471.03,255.48 471.49,253.69 471.95,252.61 472.42,251.27 472.88,248.84 473.34,246.86 473.80,246.78 474.24,245.28 474.67,245.81 475.11,243.14 475.54,244.14 475.97,243.69 476.41,243.14 476.84,241.71 477.27,240.98 477.80,241.62 478.32,241.12 478.78,241.34 479.24,243.79 479.70,243.46 480.17,243.70 480.63,245.45 481.09,249.17 481.55,249.29 482.02,253.28 482.48,254.00 483.09,257.39 483.69,259.30 483.69,259.30 484.17,258.03 484.64,256.75 485.12,255.48 485.58,253.69 486.04,252.31 486.51,250.99 486.97,248.70 487.43,246.40 487.89,246.51 488.33,244.60 488.76,244.50 489.19,245.00 489.63,244.61 490.06,243.60 490.50,243.54 490.93,243.24 491.36,242.01 491.88,240.56 492.40,240.68 492.87,242.79 493.33,243.33 493.79,243.63 494.25,244.41 494.72,247.40 495.18,249.11 495.64,250.92 496.11,253.59 496.57,256.91 497.18,257.39 497.78,259.30 497.78,259.30 498.26,258.03 498.73,256.75 499.21,255.48 499.67,253.69 500.13,251.79 500.59,248.83 501.06,248.74 501.52,246.84 501.98,245.29 502.42,244.69 502.85,243.88 503.28,244.75 503.72,243.44 504.15,244.78 504.58,242.07 505.02,243.23 505.45,242.55 505.97,240.51 506.49,241.59 506.96,242.65 507.42,241.48 507.88,242.93 508.34,246.04 508.81,247.74 509.27,248.28 509.73,251.88 510.19,251.91 510.66,256.44 511.26,257.39 511.87,259.30 511.87,259.30 512.35,258.03 512.82,256.75 513.29,255.48 513.76,253.69 514.22,252.60 514.68,250.46 515.14,248.81 515.61,247.78 516.07,245.90 516.50,245.23 516.94,245.34 517.37,245.81 517.80,242.53 518.24,243.03 518.67,244.51 519.11,243.03 519.54,241.69 520.06,240.20 520.58,242.27 521.04,243.21 521.51,242.53 521.97,243.47 522.43,243.56 522.89,245.30 523.36,248.34 523.82,250.62 524.28,252.67 524.74,254.30 525.35,257.39 525.96,259.30 525.96,259.30 526.43,258.03 526.91,256.75 527.38,255.48 527.84,253.69 528.31,252.82 528.77,250.45 529.23,250.10 529.70,247.14 530.16,247.74 530.59,244.39 531.03,245.07 531.46,244.35 531.89,245.27 532.33,244.44 532.76,243.33 533.19,241.76 533.63,242.35 534.15,242.36 534.67,239.46 535.13,241.21 535.59,242.38 536.06,244.15 536.52,245.38 536.98,245.07 537.44,248.95 537.91,250.28 538.37,252.56" fill="none" stroke="#2a80e8" stroke-width="1.0" stroke-linejoin="round"/>
<polyline points="399.79,257.00 400.41,257.00 400.87,256.39 401.32,255.96 401.77,254.84 402.22,254.06 402.67,253.51 403.16,252.89 403.64,252.78 404.13,252.19 404.61,250.97 405.10,250.35 405.52,249.73 405.93,248.14 406.35,248.17 406.76,246.66 407.18,245.76 407.70,248.29 408.22,248.85 408.68,251.01 409.15,252.77 409.61,254.33 410.07,255.53 410.54,255.99 411.00,257.15 411.45,256.57 411.90,256.60 412.35,257.55 412.80,257.00 413.25,257.00 413.25,257.00 413.88,257.00 414.50,257.00 414.95,256.39 415.40,255.90 415.86,255.30 416.31,254.95 416.76,254.25 417.24,253.47 417.73,252.18 418.22,251.85 418.70,251.36 419.19,250.46 419.60,249.43 420.02,248.51 420.44,248.14 420.85,246.82 421.27,246.64 421.79,247.62 422.31,249.22 422.77,251.28 423.24,252.11 423.70,254.07 424.16,254.92 424.62,255.87 425.09,256.85 425.54,257.08 425.99,257.55 426.44,256.65 426.89,257.00 427.34,257.00 427.34,257.00 427.97,257.00 428.59,257.00 429.04,256.39 429.49,255.34 429.94,255.18 430.40,254.46 430.85,254.23 431.33,252.69 431.82,252.19 432.30,251.99 432.79,250.50 433.28,249.52 433.69,249.54 434.11,247.98 434.52,247.85 434.94,247.45 435.36,246.03 435.88,248.02 436.40,249.07 436.86,250.78 437.32,252.90 437.79,253.91 438.25,254.54 438.71,256.01 439.17,256.96 439.63,256.56 440.08,257.07 440.53,257.01 440.98,257.00 441.43,257.00 441.43,257.00 442.05,257.00 442.68,257.00 443.13,256.39 443.58,255.68 444.03,254.77 444.48,254.92 444.93,254.44 445.42,252.86 445.91,252.35 446.39,251.89 446.88,250.41 447.36,249.65 447.78,249.30 448.20,247.99 448.61,247.41 449.03,246.76 449.45,246.55 449.97,248.42 450.49,249.14 450.95,250.60 451.41,252.60 451.87,253.97 452.34,254.88 452.80,256.29 453.26,256.76 453.71,256.93 454.16,257.15 454.62,257.48 455.07,257.00 455.52,257.00 455.52,257.00 456.14,257.00 456.77,257.00 457.22,256.39 457.67,255.71 458.12,255.39 458.57,254.28 459.02,254.35 459.51,253.31 459.99,252.79 460.48,251.76 460.97,250.79 461.45,250.60 461.87,249.90 462.28,248.61 462.70,248.19 463.12,247.05 463.53,246.70 464.05,248.31 464.57,249.31 465.04,250.37 465.50,251.96 465.96,253.93 466.43,255.09 466.89,256.52 467.35,257.28 467.80,257.23 468.25,256.46 468.70,257.47 469.16,257.00 469.61,257.00 469.61,257.00 470.23,257.00 470.86,257.00 471.31,256.39 471.76,255.23 472.21,255.20 472.66,254.64 473.11,254.24 473.60,252.61 474.08,252.80 474.57,251.56 475.05,250.87 475.54,250.49 475.96,249.69 476.37,248.00 476.79,247.47 477.21,246.77 477.62,245.80 478.14,248.32 478.66,249.11 479.13,250.58 479.59,252.75 480.05,254.00 480.51,254.38 480.98,256.20 481.44,256.68 481.89,257.41 482.34,256.80 482.79,257.29 483.24,257.00 483.69,257.00 483.69,257.00 484.32,257.00 484.94,257.00 485.39,256.39 485.85,255.77 486.30,255.33 486.75,254.10 487.20,253.65 487.69,253.17 488.17,252.19 488.66,251.74 489.14,250.51 489.63,250.42 490.04,249.30 490.46,248.49 490.88,247.96 491.29,247.61 491.71,246.70 492.23,247.65 492.75,249.71 493.21,250.57 493.68,252.41 494.14,253.39 494.60,254.54 495.06,255.71 495.53,257.16 495.98,257.56 496.43,256.94 496.88,256.70 497.33,257.00 497.78,257.00 497.78,257.00 498.41,257.00 499.03,257.00 499.48,256.39 499.93,255.27 500.39,255.53 500.84,254.98 501.29,253.36 501.77,252.89 502.26,252.43 502.74,251.36 503.23,251.31 503.72,250.07 504.13,249.15 504.55,248.46 504.97,248.24 505.38,247.50 505.80,246.14 506.32,247.35 506.84,249.80 507.30,251.49 507.76,252.93 508.23,253.60 508.69,255.10 509.15,256.04 509.62,256.40 510.07,256.87 510.52,257.29 510.97,256.76 511.42,257.00 511.87,257.00 511.87,257.00 512.50,257.00 513.12,257.00 513.57,256.39 514.02,256.39 514.47,255.44 514.92,254.31 515.38,254.35 515.86,253.75 516.35,252.39 516.83,251.86 517.32,250.31 517.80,250.61 518.22,248.99 518.64,248.73 519.05,247.45 519.47,247.13 519.89,246.09 520.41,248.04 520.93,249.69 521.39,250.94 521.85,252.05 522.32,254.13 522.78,255.30 523.24,256.09 523.70,257.50 524.15,257.23 524.61,256.92 525.06,256.95 525.51,257.00 525.96,257.00 525.96,257.00 526.58,257.00 527.21,257.00 527.66,256.39 528.11,255.66 528.56,255.43 529.01,255.14 529.46,254.52 529.95,253.38 530.44,252.79 530.92,251.57 531.41,251.17 531.89,249.80 532.31,249.23 532.73,248.39 533.14,247.54 533.56,247.03 533.97,246.38 534.50,248.06 535.02,249.89 535.48,250.52 535.94,252.41 536.40,254.43 536.87,254.44 537.33,255.88 537.79,256.85 538.24,257.08 538.69,257.46" fill="none" stroke="#f24a4a" stroke-width="0.8" stroke-linejoin="round"/>
<rect x="399.20" y="144.60" width="139.80" height="118.40" fill="none" stroke="#3a3a3a" stroke-width="0.9"/>
<line x1="399.20" y1="263.00" x2="399.20" y2="260.80" stroke="#3a3a3a" stroke-width="0.7"/>
<line x1="433.90" y1="263.00" x2="433.90" y2="260.80" stroke="#3a3a3a" stroke-width="0.7"/>
<line x1="468.60" y1="263.00" x2="468.60" y2="260.80" stroke="#3a3a3a" stroke-width="0.7"/>
<line x1="503.30" y1="263.00" x2="503.30" y2="260.80" stroke="#3a3a3a" stroke-width="0.7"/>
<line x1="538.00" y1="263.00" x2="538.00" y2="260.80" stroke="#3a3a3a" stroke-width="0.7"/>
<line x1="416.55" y1="263.00" x2="416.55" y2="261.70" stroke="#3a3a3a" stroke-width="0.7"/>
<line x1="451.25" y1="263.00" x2="451.25" y2="261.70" stroke="#3a3a3a" stroke-width="0.7"/>
<line x1="485.95" y1="263.00" x2="485.95" y2="261.70" stroke="#3a3a3a" stroke-width="0.7"/>
<line x1="520.65" y1="263.00" x2="520.65" y2="261.70" stroke="#3a3a3a" stroke-width="0.7"/>
<line x1="399.20" y1="259.30" x2="401.40" y2="259.30" stroke="#3a3a3a" stroke-width="0.7"/>
<line x1="399.20" y1="221.05" x2="401.40" y2="221.05" stroke="#3a3a3a" stroke-width="0.7"/>
<line x1="399.20" y1="182.80" x2="401.40" y2="182.80" stroke="#3a3a3a" stroke-width="0.7"/>
<line x1="399.20" y1="144.55" x2="401.40" y2="144.55" stroke="#3a3a3a" stroke-width="0.7"/>
<line x1="399.20" y1="240.18" x2="400.50" y2="240.18" stroke="#3a3a3a" stroke-width="0.7"/>
<line x1="399.20" y1="201.93" x2="400.50" y2="201.93" stroke="#3a3a3a" stroke-width="0.7"/>
<line x1="399.20" y1="163.68" x2="400.50" y2="163.68" stroke="#3a3a3a" stroke-width="0.7"/>
<text transform="translate(399.20 271.00) scale(1 1.13)" font-size="6" text-anchor="middle" fill="#1a1a1a" stroke="#1a1a1a" stroke-width="0.084">0</text>
<text transform="translate(433.90 271.00) scale(1 1.13)" font-size="6" text-anchor="middle" fill="#1a1a1a" stroke="#1a1a1a" stroke-width="0.084">10</text>
<text transform="translate(468.60 271.00) scale(1 1.13)" font-size="6" text-anchor="middle" fill="#1a1a1a" stroke="#1a1a1a" stroke-width="0.084">20</text>
<text transform="translate(503.30 271.00) scale(1 1.13)" font-size="6" text-anchor="middle" fill="#1a1a1a" stroke="#1a1a1a" stroke-width="0.084">30</text>
<text transform="translate(538.00 271.00) scale(1 1.13)" font-size="6" text-anchor="middle" fill="#1a1a1a" stroke="#1a1a1a" stroke-width="0.084">40</text>
<text transform="translate(396.60 261.40) scale(1 1.13)" font-size="6" text-anchor="end" fill="#1a1a1a" stroke="#1a1a1a" stroke-width="0.084">0.0</text>
<text transform="translate(396.60 223.15) scale(1 1.13)" font-size="6" text-anchor="end" fill="#1a1a1a" stroke="#1a1a1a" stroke-width="0.084">0.5</text>
<text transform="translate(396.60 184.90) scale(1 1.13)" font-size="6" text-anchor="end" fill="#1a1a1a" stroke="#1a1a1a" stroke-width="0.084">1.0</text>
<text transform="translate(396.60 146.65) scale(1 1.13)" font-size="6" text-anchor="end" fill="#1a1a1a" stroke="#1a1a1a" stroke-width="0.084">1.5</text>
<text transform="translate(470.20 279.70) scale(1 1.13)" font-size="7" text-anchor="middle" fill="#1a1a1a" stroke="#1a1a1a" stroke-width="0.098">Time (s)</text>
<text transform="translate(387.50 204.00) rotate(-90) scale(1.13 1)" font-size="7.5" text-anchor="middle" fill="#1a1a1a" stroke="#1a1a1a" stroke-width="0.105">ΔR/R<tspan font-size="4.8" dy="1.6">0</tspan></text>
<line x1="405.60" y1="156.00" x2="419.20" y2="156.00" stroke="#f88080" stroke-width="1.5"/>
<text transform="translate(420.80 158.30) scale(1 1.13)" font-size="7" text-anchor="start" fill="#1a1a1a" stroke="#1a1a1a" stroke-width="0.098">2.0%</text>
<line x1="437.90" y1="156.00" x2="451.50" y2="156.00" stroke="#40a0f0" stroke-width="1.5"/>
<text transform="translate(453.10 158.30) scale(1 1.13)" font-size="7" text-anchor="start" fill="#1a1a1a" stroke="#1a1a1a" stroke-width="0.098">4.0%</text>
<line x1="469.70" y1="156.00" x2="483.30" y2="156.00" stroke="#30c0a0" stroke-width="1.5"/>
<text transform="translate(484.90 158.30) scale(1 1.13)" font-size="7" text-anchor="start" fill="#1a1a1a" stroke="#1a1a1a" stroke-width="0.098">5.6%</text>
<line x1="502.60" y1="156.00" x2="516.20" y2="156.00" stroke="#d890f0" stroke-width="1.5"/>
<text transform="translate(517.80 158.30) scale(1 1.13)" font-size="7" text-anchor="start" fill="#1a1a1a" stroke="#1a1a1a" stroke-width="0.098">6.4%</text>
<text transform="translate(376.00 158.40) scale(1 1.0)" font-size="16" text-anchor="start" fill="#1a1a1a" stroke="#1a1a1a" stroke-width="0.192">f</text>
<path d="M44.00,306.30 L44.50,305.92 L45.00,305.32 L45.50,305.79 L46.00,307.08 L46.50,306.14 L47.00,305.68 L47.50,307.25 L48.00,306.69 L48.50,306.99 L49.00,307.28 L49.50,307.25 L50.00,307.26 L50.50,307.31 L51.00,307.75 L51.50,309.37 L52.00,310.56 L52.50,311.17 L53.00,311.80 L53.50,312.01 L54.00,313.20 L54.50,313.03 L55.00,313.34 L55.50,313.49 L56.00,312.86 L56.50,314.06 L57.00,314.40 L57.50,314.53 L58.00,315.54 L58.50,315.64 L59.00,314.25 L59.50,315.91 L60.00,315.58 L60.50,315.16 L61.00,315.80 L61.50,317.02 L62.00,316.72 L62.50,315.91 L63.00,316.88 L63.50,317.43 L64.00,316.78 L64.50,316.38 L65.00,317.06 L65.50,316.41 L66.00,316.81 L66.50,317.12 L67.00,316.73 L67.50,317.42 L68.00,318.37 L68.50,318.91 L69.00,318.90 L69.50,317.76 L70.00,318.62 L70.50,318.54 L71.00,317.91 L71.50,318.78 L72.00,317.80 L72.50,318.59 L73.00,317.99 L73.50,318.73 L74.00,317.31 L74.50,316.99 L75.00,318.07 L75.50,316.88 L76.00,316.43 L76.50,317.49 L77.00,318.29 L77.50,317.64 L78.00,317.79 L78.50,317.65 L79.00,317.43 L79.50,318.63 L80.00,319.18 L80.50,318.44 L81.00,317.86 L81.50,319.08 L82.00,319.18 L82.50,316.36 L83.00,318.01 L83.50,318.88 L84.00,319.29 L84.50,318.94 L85.00,319.13 L85.50,318.06 L86.00,317.84 L86.50,316.69 L87.00,315.73 L87.50,313.00 L88.00,313.00 L88.50,315.91 L89.00,316.13 L89.50,316.04 L90.00,316.98 L90.50,317.53 L91.00,316.57 L91.50,317.46 L92.00,317.08 L92.50,317.79 L93.00,317.26 L93.50,316.25 L94.00,316.59 L94.50,316.75 L95.00,313.50 L95.50,318.35 L96.00,318.71 L96.50,318.81 L97.00,317.45 L97.50,318.19 L98.00,318.72 L98.50,317.42 L99.00,316.77 L99.50,317.08 L100.00,317.99 L100.50,314.50 L101.00,317.86 L101.50,318.28 L102.00,316.84 L102.50,316.28 L103.00,315.36 L103.50,314.44 L104.00,316.91 L104.50,316.85 L105.00,316.55 L105.50,315.33 L106.00,315.99 L106.50,312.20 L107.00,314.13 L107.50,311.50 L108.00,311.50 L108.50,315.32 L109.00,315.91 L109.50,315.04 L110.00,315.86 L110.50,315.35 L111.00,315.68 L111.50,315.17 L112.00,315.77 L112.50,314.74 L113.00,315.45 L113.50,315.19 L114.00,315.07 L114.50,314.34 L115.00,314.90 L115.50,315.92 L116.00,315.54 L116.50,315.60 L117.00,315.42 L117.50,315.30 L118.00,314.62 L118.50,314.42 L119.00,312.50 L119.50,314.23 L120.00,313.98 L120.50,313.72 L121.00,313.42 L121.50,314.28 L122.00,314.68 L122.50,314.62 L123.00,315.67 L123.50,314.70 L124.00,312.99 L124.50,315.08 L125.00,315.70 L125.50,315.84 L126.00,316.01 L126.50,315.23 L127.00,315.40 L127.50,314.63 L128.00,315.50 L128.50,317.10 L129.00,317.02 L129.50,317.93 L130.00,318.90 L130.50,320.14 L131.00,317.00 L131.50,320.95 L132.00,321.46 L132.50,321.75 L133.00,321.47 L133.50,323.16 L134.00,324.18 L134.50,325.63 L135.00,325.45 L135.50,325.38 L136.00,325.46 L136.50,325.97 L137.00,326.85 L137.50,326.31 L138.00,327.04 L138.50,327.35 L139.00,327.68 L139.50,327.80 L140.00,327.50 L140.50,327.89 L141.00,327.09 L141.50,326.30 L142.00,325.31 L142.50,325.64 L143.00,325.95 L143.50,326.87 L144.00,319.50 L144.50,327.27 L145.00,327.61 L145.50,328.19 L146.00,327.40 L146.50,327.50 L147.00,327.82 L147.50,328.21 L148.00,327.45 L148.50,327.77 L149.00,327.81 L149.50,328.05 L150.00,327.54 L150.50,324.70 L151.00,327.81 L151.50,328.30 L152.00,328.45 L152.50,328.69 L153.00,328.15 L153.50,327.99 L154.00,328.51 L154.50,327.55 L155.00,328.65 L155.50,328.59 L156.00,327.47 L156.50,327.99 L157.00,327.69 L157.50,327.15 L158.00,327.10 L158.50,328.18 L159.00,328.74 L159.50,328.62 L160.00,323.60 L160.50,329.64 L161.00,328.29 L161.50,328.19 L162.00,330.38 L162.50,329.71 L163.00,329.47 L163.50,329.50 L164.00,330.73 L164.50,330.11 L165.00,329.54 L165.50,330.77 L166.00,330.56 L166.50,331.46 L167.00,331.69 L167.50,331.40 L168.00,331.27 L168.50,331.56 L169.00,331.06 L169.50,331.94 L170.00,332.94 L170.50,333.44 L171.00,332.40 L171.50,332.25 L172.00,331.47 L172.50,332.09 L173.00,333.05 L173.50,332.90 L174.00,332.68 L174.50,332.89 L175.00,332.54 L175.50,332.43 L176.00,331.00 L176.50,332.78 L177.00,332.78 L177.50,332.44 L178.00,331.97 L178.50,333.22 L179.00,334.14 L179.50,334.12 L180.00,334.41 L180.50,333.12 L181.00,333.54 L181.50,332.98 L182.00,333.59 L182.50,334.61 L183.00,335.23 L183.50,334.39 L184.00,334.98 L184.50,335.36 L185.00,335.22 L185.50,334.43 L186.00,335.00 L186.50,333.29 L187.00,334.83 L187.50,335.47 L188.00,335.18 L188.50,334.68 L189.00,334.04 L189.50,334.65 L190.00,335.74 L190.50,334.68 L191.00,333.98 L191.50,334.96 L192.00,335.50 L192.50,336.33 L193.00,336.04 L193.50,335.49 L194.00,335.34 L194.50,335.57 L195.00,336.25 L195.50,335.96 L196.00,336.93 L196.50,337.57 L197.00,337.47 L197.50,337.95 L198.00,338.15 L198.50,338.66 L199.00,338.73 L199.50,338.74 L200.00,339.68 L200.50,339.92 L201.00,339.83 L201.50,339.15 L202.00,340.55 L202.50,340.18 L203.00,339.33 L203.50,339.14 L204.00,338.95 L204.50,338.37 L205.00,338.61 L205.50,339.29 L206.00,339.86 L206.50,338.78 L207.00,337.79 L207.50,338.66 L208.00,339.24 L208.50,337.98 L209.00,337.94 L209.50,337.47 L210.00,337.71 L210.50,338.22 L211.00,338.08 L211.50,336.85 L212.00,337.02 L212.50,336.79 L213.00,337.41 L213.50,336.18 L214.00,336.21 L214.50,334.50 L215.00,335.58 L215.50,336.49 L216.00,337.00 L216.50,337.60 L217.00,337.64 L217.50,337.71 L218.00,337.67 L218.50,337.98 L219.00,338.11 L219.50,336.85 L220.00,338.01 L220.50,338.39 L221.00,337.09 L221.50,336.19 L222.00,336.24 L222.50,337.46 L223.00,337.20 L223.50,337.76 L224.00,336.72 L224.50,337.67 L225.00,337.17 L225.50,337.32 L226.00,338.21 L226.50,334.00 L227.00,337.28 L227.50,338.28 L228.00,339.09 L228.50,338.63 L229.00,337.91 L229.50,338.26 L230.00,338.03 L230.50,339.39 L231.00,339.66 L231.50,339.85 L232.00,339.81 L232.50,340.74 L233.00,340.84 L233.50,341.64 L234.00,340.70 L234.50,341.52 L235.00,340.63 L235.50,340.26 L236.00,341.76 L236.50,342.26 L237.00,342.82 L237.50,341.54 L238.00,341.10 L238.50,343.36 L239.00,342.64 L239.50,342.48 L240.00,343.25 L240.50,343.45 L241.00,343.57 L241.50,343.27 L242.00,342.77 L242.50,343.72 L243.00,342.71 L243.50,342.96 L244.00,342.80 L244.50,342.72 L245.00,342.60 L245.50,342.62 L246.00,342.31 L246.50,342.02 L247.00,342.62 L247.50,343.01 L248.00,342.77 L248.50,343.80 L249.00,343.45 L249.50,343.54 L250.00,344.44 L250.50,341.70 L251.00,343.97 L251.50,343.25 L252.00,340.47 L252.50,341.89 L253.00,341.70 L253.50,342.99 L254.00,342.60 L254.50,342.00 L255.00,342.92 L255.50,342.53 L256.00,340.00 L256.50,342.40 L257.00,341.96 L257.50,342.00 L258.00,342.46 L258.50,343.85 L259.00,344.33 L259.50,343.77 L260.00,343.34 L260.50,343.01 L261.00,343.93 L261.50,343.90 L262.00,344.25 L262.50,343.31 L263.00,343.66 L263.50,344.89 L264.00,342.91 L264.50,344.40 L265.00,343.71 L265.50,343.65 L266.00,344.19 L266.50,345.16 L267.00,344.38 L267.50,343.91 L268.00,345.42 L268.50,345.88 L269.00,345.41 L269.50,345.46 L270.00,344.86 L270.50,345.38 L271.00,346.56 L271.50,346.89 L272.00,346.87 L272.50,346.12 L273.00,346.64 L273.50,346.52 L274.00,346.72 L274.50,346.78 L275.00,347.12 L275.50,347.24 L276.00,347.74 L276.50,347.29 L277.00,346.00 L277.50,348.77 L278.00,349.08 L278.50,348.10 L279.00,349.11 L279.50,349.18 L280.00,349.06 L280.50,349.19 L281.00,349.68 L281.50,348.69 L282.00,348.86 L282.50,349.51 L283.00,349.56 L283.50,349.61 L284.00,349.87 L284.50,350.23 L285.00,349.19 L285.50,349.22 L286.00,349.44 L286.50,349.93 L287.00,349.37 L287.50,349.28 L288.00,348.47 L288.50,347.38 L289.00,348.25 L289.50,347.21 L290.00,347.10 L290.50,347.38 L291.00,346.94 L291.50,345.97 L292.00,345.93 L292.50,345.83 L293.00,345.84 L293.50,342.30 L294.00,346.39 L294.50,346.72 L295.00,345.80 L295.50,346.57 L296.00,345.63 L296.50,346.77 L297.00,347.21 L297.50,347.56 L298.00,347.20 L298.50,347.41 L299.00,341.55 L299.50,346.55 L300.00,347.39 L300.50,347.97 L301.00,347.66 L301.50,348.46 L302.00,348.94 L302.50,349.18 L303.00,347.39 L303.50,347.68 L304.00,348.27 L304.50,348.00 L305.00,348.13 L305.50,348.73 L306.00,348.12 L306.50,345.00 L307.00,348.82 L307.50,347.51 L308.00,346.00 L308.50,349.53 L309.00,349.30 L309.50,349.08 L310.00,349.38 L310.50,349.37 L311.00,349.43 L311.50,350.42 L312.00,350.95 L312.50,351.42 L313.00,350.10 L313.50,351.30 L314.00,351.40 L314.50,351.11 L315.00,351.07 L315.50,350.28 L316.00,351.12 L316.50,350.64 L317.00,351.14 L317.50,351.74 L318.00,351.86 L318.50,346.00 L319.00,350.94 L319.50,350.07 L320.00,350.21 L320.50,350.93 L321.00,351.70 L321.50,346.50 L322.00,351.65 L322.50,351.72 L323.00,352.27 L323.50,351.70 L324.00,349.00 L324.50,352.60 L325.00,352.29 L325.50,352.66 L326.00,352.04 L326.50,352.28 L327.00,353.27 L327.50,348.00 L328.00,354.13 L328.50,354.18 L329.00,354.67 L329.50,355.20 L330.00,355.61 L330.50,354.32 L331.00,355.59 L331.50,356.31 L332.00,356.40 L332.50,356.20 L333.00,356.96 L333.50,356.20 L334.00,357.28 L334.50,356.20 L335.00,350.50 L335.50,357.38 L336.00,355.52 L336.50,357.44 L337.00,357.44 L337.50,356.84 L338.00,356.25 L338.50,355.27 L339.00,354.68 L339.50,355.31 L340.00,355.42 L340.50,354.81 L341.00,354.09 L341.50,354.45 L342.00,353.82 L342.00,395.79 L341.50,395.12 L341.00,394.93 L340.50,395.24 L340.00,395.57 L339.50,396.55 L339.00,396.47 L338.50,397.36 L338.00,395.99 L337.50,396.96 L337.00,396.35 L336.50,395.77 L336.00,395.23 L335.50,395.06 L335.00,395.80 L334.50,395.87 L334.00,395.40 L333.50,395.82 L333.00,395.36 L332.50,395.52 L332.00,395.56 L331.50,394.99 L331.00,395.18 L330.50,395.24 L330.00,395.10 L329.50,396.22 L329.00,395.34 L328.50,396.25 L328.00,395.06 L327.50,396.07 L327.00,395.60 L326.50,396.20 L326.00,396.15 L325.50,395.86 L325.00,394.89 L324.50,394.23 L324.00,395.67 L323.50,394.82 L323.00,394.53 L322.50,394.73 L322.00,394.34 L321.50,394.59 L321.00,395.68 L320.50,395.20 L320.00,395.20 L319.50,394.47 L319.00,393.67 L318.50,394.14 L318.00,394.74 L317.50,394.12 L317.00,394.69 L316.50,394.67 L316.00,394.94 L315.50,394.14 L315.00,394.52 L314.50,395.10 L314.00,394.74 L313.50,394.60 L313.00,394.63 L312.50,394.35 L312.00,394.49 L311.50,395.13 L311.00,395.35 L310.50,396.65 L310.00,393.65 L309.50,393.18 L309.00,392.85 L308.50,393.12 L308.00,393.70 L307.50,394.39 L307.00,394.29 L306.50,394.29 L306.00,393.21 L305.50,393.46 L305.00,393.62 L304.50,393.93 L304.00,394.47 L303.50,394.22 L303.00,392.95 L302.50,392.26 L302.00,391.51 L301.50,392.68 L301.00,393.26 L300.50,392.30 L300.00,395.00 L299.50,392.58 L299.00,392.41 L298.50,391.93 L298.00,392.37 L297.50,391.69 L297.00,392.33 L296.50,392.56 L296.00,392.91 L295.50,393.07 L295.00,392.34 L294.50,391.95 L294.00,392.44 L293.50,392.30 L293.00,392.31 L292.50,392.63 L292.00,391.37 L291.50,390.83 L291.00,392.11 L290.50,391.48 L290.00,392.31 L289.50,392.90 L289.00,392.02 L288.50,391.46 L288.00,391.25 L287.50,390.88 L287.00,391.14 L286.50,391.09 L286.00,391.20 L285.50,391.61 L285.00,392.10 L284.50,391.52 L284.00,391.55 L283.50,391.92 L283.00,390.92 L282.50,390.32 L282.00,389.64 L281.50,390.50 L281.00,389.85 L280.50,389.53 L280.00,390.16 L279.50,390.35 L279.00,389.90 L278.50,391.00 L278.00,389.90 L277.50,390.13 L277.00,391.02 L276.50,390.18 L276.00,390.41 L275.50,389.65 L275.00,389.72 L274.50,390.32 L274.00,389.33 L273.50,389.57 L273.00,389.36 L272.50,389.24 L272.00,388.68 L271.50,389.18 L271.00,388.12 L270.50,387.43 L270.00,387.32 L269.50,387.47 L269.00,387.48 L268.50,387.15 L268.00,388.53 L267.50,389.34 L267.00,389.19 L266.50,389.61 L266.00,389.44 L265.50,388.15 L265.00,388.71 L264.50,389.11 L264.00,388.73 L263.50,388.12 L263.00,390.46 L262.50,389.23 L262.00,389.39 L261.50,388.91 L261.00,388.98 L260.50,389.27 L260.00,387.74 L259.50,387.58 L259.00,386.89 L258.50,386.56 L258.00,387.46 L257.50,387.03 L257.00,387.00 L256.50,387.47 L256.00,387.19 L255.50,387.05 L255.00,387.93 L254.50,387.53 L254.00,388.00 L253.50,387.37 L253.00,387.09 L252.50,386.50 L252.00,386.60 L251.50,385.64 L251.00,385.77 L250.50,386.99 L250.00,389.00 L249.50,385.33 L249.00,385.33 L248.50,384.77 L248.00,385.41 L247.50,386.08 L247.00,385.22 L246.50,385.08 L246.00,384.82 L245.50,385.61 L245.00,386.83 L244.50,385.82 L244.00,385.20 L243.50,385.72 L243.00,386.54 L242.50,386.44 L242.00,386.84 L241.50,386.37 L241.00,386.43 L240.50,385.02 L240.00,384.10 L239.50,384.35 L239.00,384.10 L238.50,384.04 L238.00,383.92 L237.50,384.65 L237.00,384.86 L236.50,384.28 L236.00,383.75 L235.50,383.10 L235.00,382.90 L234.50,383.71 L234.00,382.52 L233.50,382.64 L233.00,382.55 L232.50,383.45 L232.00,383.77 L231.50,383.07 L231.00,381.93 L230.50,381.71 L230.00,382.32 L229.50,381.99 L229.00,382.84 L228.50,381.16 L228.00,382.05 L227.50,383.67 L227.00,381.31 L226.50,381.96 L226.00,381.31 L225.50,382.15 L225.00,381.53 L224.50,380.47 L224.00,381.37 L223.50,381.53 L223.00,381.79 L222.50,381.81 L222.00,380.60 L221.50,381.85 L221.00,380.45 L220.50,381.52 L220.00,381.90 L219.50,380.94 L219.00,381.49 L218.50,381.12 L218.00,380.17 L217.50,380.32 L217.00,380.73 L216.50,380.52 L216.00,379.64 L215.50,380.80 L215.00,380.38 L214.50,380.20 L214.00,379.70 L213.50,379.57 L213.00,381.36 L212.50,380.14 L212.00,379.65 L211.50,382.06 L211.00,380.35 L210.50,379.83 L210.00,379.35 L209.50,378.77 L209.00,379.13 L208.50,378.86 L208.00,379.95 L207.50,380.67 L207.00,380.60 L206.50,380.04 L206.00,379.54 L205.50,380.28 L205.00,378.96 L204.50,379.12 L204.00,378.23 L203.50,378.22 L203.00,378.28 L202.50,378.40 L202.00,379.42 L201.50,378.70 L201.00,378.27 L200.50,379.59 L200.00,378.51 L199.50,380.76 L199.00,378.94 L198.50,378.64 L198.00,379.22 L197.50,378.06 L197.00,379.02 L196.50,377.88 L196.00,377.30 L195.50,378.21 L195.00,378.04 L194.50,378.81 L194.00,377.59 L193.50,377.88 L193.00,378.88 L192.50,380.37 L192.00,378.76 L191.50,378.53 L191.00,377.38 L190.50,377.07 L190.00,377.45 L189.50,376.66 L189.00,376.45 L188.50,376.55 L188.00,376.37 L187.50,376.79 L187.00,376.03 L186.50,376.72 L186.00,376.09 L185.50,376.92 L185.00,378.25 L184.50,376.57 L184.00,376.90 L183.50,376.83 L183.00,376.82 L182.50,376.21 L182.00,376.51 L181.50,375.75 L181.00,375.19 L180.50,377.00 L180.00,375.03 L179.50,375.63 L179.00,376.15 L178.50,376.37 L178.00,375.59 L177.50,375.30 L177.00,374.54 L176.50,373.75 L176.00,373.45 L175.50,374.56 L175.00,376.50 L174.50,373.99 L174.00,373.69 L173.50,373.68 L173.00,373.90 L172.50,374.47 L172.00,373.55 L171.50,372.81 L171.00,372.48 L170.50,373.03 L170.00,373.90 L169.50,373.24 L169.00,373.60 L168.50,373.55 L168.00,373.32 L167.50,373.79 L167.00,373.81 L166.50,372.74 L166.00,373.32 L165.50,372.32 L165.00,372.51 L164.50,371.38 L164.00,371.85 L163.50,370.87 L163.00,369.97 L162.50,369.75 L162.00,369.88 L161.50,370.29 L161.00,369.47 L160.50,369.69 L160.00,369.29 L159.50,369.89 L159.00,369.75 L158.50,371.83 L158.00,370.82 L157.50,370.72 L157.00,371.47 L156.50,370.62 L156.00,370.34 L155.50,370.62 L155.00,370.37 L154.50,369.96 L154.00,370.80 L153.50,370.31 L153.00,370.59 L152.50,370.01 L152.00,369.63 L151.50,369.73 L151.00,369.24 L150.50,368.92 L150.00,368.25 L149.50,368.86 L149.00,370.08 L148.50,369.52 L148.00,370.44 L147.50,370.18 L147.00,369.01 L146.50,369.65 L146.00,369.34 L145.50,369.23 L145.00,369.64 L144.50,369.34 L144.00,369.74 L143.50,368.98 L143.00,369.41 L142.50,368.62 L142.00,371.50 L141.50,367.69 L141.00,369.17 L140.50,368.39 L140.00,367.86 L139.50,368.60 L139.00,368.26 L138.50,367.43 L138.00,367.49 L137.50,368.65 L137.00,368.24 L136.50,369.72 L136.00,372.00 L135.50,369.03 L135.00,368.87 L134.50,369.26 L134.00,369.80 L133.50,368.84 L133.00,368.97 L132.50,369.45 L132.00,370.10 L131.50,368.09 L131.00,367.43 L130.50,367.50 L130.00,368.76 L129.50,368.19 L129.00,368.64 L128.50,369.48 L128.00,368.92 L127.50,368.41 L127.00,367.57 L126.50,367.59 L126.00,367.00 L125.50,368.03 L125.00,368.88 L124.50,369.46 L124.00,369.77 L123.50,369.02 L123.00,368.20 L122.50,368.30 L122.00,368.08 L121.50,369.12 L121.00,368.73 L120.50,368.64 L120.00,369.33 L119.50,369.74 L119.00,369.04 L118.50,369.59 L118.00,368.43 L117.50,367.75 L117.00,367.59 L116.50,367.65 L116.00,367.46 L115.50,366.99 L115.00,366.80 L114.50,368.08 L114.00,367.73 L113.50,368.47 L113.00,368.16 L112.50,367.93 L112.00,366.90 L111.50,366.78 L111.00,367.83 L110.50,368.38 L110.00,368.46 L109.50,367.80 L109.00,367.75 L108.50,367.58 L108.00,367.13 L107.50,366.69 L107.00,370.50 L106.50,367.29 L106.00,366.93 L105.50,366.66 L105.00,367.50 L104.50,368.01 L104.00,366.95 L103.50,368.06 L103.00,368.90 L102.50,368.23 L102.00,368.75 L101.50,368.34 L101.00,367.60 L100.50,371.60 L100.00,367.46 L99.50,367.45 L99.00,367.31 L98.50,367.86 L98.00,368.55 L97.50,368.84 L97.00,367.84 L96.50,366.80 L96.00,365.95 L95.50,365.83 L95.00,366.64 L94.50,367.60 L94.00,366.90 L93.50,367.23 L93.00,369.32 L92.50,368.00 L92.00,367.81 L91.50,367.10 L91.00,366.58 L90.50,367.10 L90.00,367.70 L89.50,367.89 L89.00,366.22 L88.50,365.34 L88.00,365.48 L87.50,365.01 L87.00,365.33 L86.50,364.79 L86.00,364.23 L85.50,365.83 L85.00,366.30 L84.50,366.78 L84.00,365.46 L83.50,366.19 L83.00,368.63 L82.50,366.00 L82.00,365.96 L81.50,367.92 L81.00,366.40 L80.50,366.28 L80.00,365.78 L79.50,365.88 L79.00,366.36 L78.50,365.23 L78.00,364.76 L77.50,365.71 L77.00,365.62 L76.50,364.74 L76.00,365.72 L75.50,365.59 L75.00,365.45 L74.50,363.56 L74.00,364.80 L73.50,363.97 L73.00,364.00 L72.50,363.03 L72.00,362.77 L71.50,362.36 L71.00,363.35 L70.50,363.60 L70.00,365.02 L69.50,364.27 L69.00,363.99 L68.50,362.67 L68.00,364.05 L67.50,362.27 L67.00,362.72 L66.50,362.22 L66.00,362.57 L65.50,362.19 L65.00,361.54 L64.50,361.56 L64.00,360.93 L63.50,361.62 L63.00,361.83 L62.50,361.82 L62.00,361.92 L61.50,360.94 L61.00,359.62 L60.50,359.18 L60.00,359.41 L59.50,359.33 L59.00,358.08 L58.50,358.28 L58.00,357.92 L57.50,357.93 L57.00,357.68 L56.50,358.30 L56.00,357.84 L55.50,357.49 L55.00,358.01 L54.50,357.73 L54.00,357.90 L53.50,358.13 L53.00,356.51 L52.50,355.88 L52.00,355.56 L51.50,356.65 L51.00,354.37 L50.50,355.08 L50.00,354.58 L49.50,353.44 L49.00,353.15 L48.50,352.52 L48.00,352.92 L47.50,352.83 L47.00,351.41 L46.50,349.95 L46.00,350.63 L45.50,349.61 L45.00,348.55 L44.50,347.02 L44.00,345.55Z" fill="#0870e2"/>
<rect x="43.90" y="286.60" width="301.70" height="117.90" fill="none" stroke="#3a3a3a" stroke-width="0.9"/>
<line x1="44.10" y1="404.50" x2="44.10" y2="402.30" stroke="#3a3a3a" stroke-width="0.7"/>
<line x1="82.82" y1="404.50" x2="82.82" y2="402.30" stroke="#3a3a3a" stroke-width="0.7"/>
<line x1="121.54" y1="404.50" x2="121.54" y2="402.30" stroke="#3a3a3a" stroke-width="0.7"/>
<line x1="160.26" y1="404.50" x2="160.26" y2="402.30" stroke="#3a3a3a" stroke-width="0.7"/>
<line x1="198.98" y1="404.50" x2="198.98" y2="402.30" stroke="#3a3a3a" stroke-width="0.7"/>
<line x1="237.70" y1="404.50" x2="237.70" y2="402.30" stroke="#3a3a3a" stroke-width="0.7"/>
<line x1="276.42" y1="404.50" x2="276.42" y2="402.30" stroke="#3a3a3a" stroke-width="0.7"/>
<line x1="315.14" y1="404.50" x2="315.14" y2="402.30" stroke="#3a3a3a" stroke-width="0.7"/>
<line x1="63.46" y1="404.50" x2="63.46" y2="403.20" stroke="#3a3a3a" stroke-width="0.7"/>
<line x1="102.18" y1="404.50" x2="102.18" y2="403.20" stroke="#3a3a3a" stroke-width="0.7"/>
<line x1="140.90" y1="404.50" x2="140.90" y2="403.20" stroke="#3a3a3a" stroke-width="0.7"/>
<line x1="179.62" y1="404.50" x2="179.62" y2="403.20" stroke="#3a3a3a" stroke-width="0.7"/>
<line x1="218.34" y1="404.50" x2="218.34" y2="403.20" stroke="#3a3a3a" stroke-width="0.7"/>
<line x1="257.06" y1="404.50" x2="257.06" y2="403.20" stroke="#3a3a3a" stroke-width="0.7"/>
<line x1="295.78" y1="404.50" x2="295.78" y2="403.20" stroke="#3a3a3a" stroke-width="0.7"/>
<line x1="334.50" y1="404.50" x2="334.50" y2="403.20" stroke="#3a3a3a" stroke-width="0.7"/>
<line x1="43.90" y1="395.52" x2="46.10" y2="395.52" stroke="#3a3a3a" stroke-width="0.7"/>
<line x1="43.90" y1="377.28" x2="46.10" y2="377.28" stroke="#3a3a3a" stroke-width="0.7"/>
<line x1="43.90" y1="359.04" x2="46.10" y2="359.04" stroke="#3a3a3a" stroke-width="0.7"/>
<line x1="43.90" y1="340.80" x2="46.10" y2="340.80" stroke="#3a3a3a" stroke-width="0.7"/>
<line x1="43.90" y1="322.56" x2="46.10" y2="322.56" stroke="#3a3a3a" stroke-width="0.7"/>
<line x1="43.90" y1="304.32" x2="46.10" y2="304.32" stroke="#3a3a3a" stroke-width="0.7"/>
<line x1="43.90" y1="286.08" x2="46.10" y2="286.08" stroke="#3a3a3a" stroke-width="0.7"/>
<line x1="43.90" y1="404.64" x2="45.20" y2="404.64" stroke="#3a3a3a" stroke-width="0.7"/>
<line x1="43.90" y1="386.40" x2="45.20" y2="386.40" stroke="#3a3a3a" stroke-width="0.7"/>
<line x1="43.90" y1="368.16" x2="45.20" y2="368.16" stroke="#3a3a3a" stroke-width="0.7"/>
<line x1="43.90" y1="349.92" x2="45.20" y2="349.92" stroke="#3a3a3a" stroke-width="0.7"/>
<line x1="43.90" y1="331.68" x2="45.20" y2="331.68" stroke="#3a3a3a" stroke-width="0.7"/>
<line x1="43.90" y1="313.44" x2="45.20" y2="313.44" stroke="#3a3a3a" stroke-width="0.7"/>
<line x1="43.90" y1="295.20" x2="45.20" y2="295.20" stroke="#3a3a3a" stroke-width="0.7"/>
<text transform="translate(44.10 417.30) scale(1 1.0)" font-size="10" text-anchor="middle" fill="#1a1a1a" stroke="#1a1a1a" stroke-width="0.200">0</text>
<text transform="translate(82.82 417.30) scale(1 1.0)" font-size="10" text-anchor="middle" fill="#1a1a1a" stroke="#1a1a1a" stroke-width="0.200">500</text>
<text transform="translate(121.54 417.30) scale(1 1.0)" font-size="10" text-anchor="middle" fill="#1a1a1a" stroke="#1a1a1a" stroke-width="0.200">1000</text>
<text transform="translate(160.26 417.30) scale(1 1.0)" font-size="10" text-anchor="middle" fill="#1a1a1a" stroke="#1a1a1a" stroke-width="0.200">1500</text>
<text transform="translate(198.98 417.30) scale(1 1.0)" font-size="10" text-anchor="middle" fill="#1a1a1a" stroke="#1a1a1a" stroke-width="0.200">2000</text>
<text transform="translate(237.70 417.30) scale(1 1.0)" font-size="10" text-anchor="middle" fill="#1a1a1a" stroke="#1a1a1a" stroke-width="0.200">2500</text>
<text transform="translate(276.42 417.30) scale(1 1.0)" font-size="10" text-anchor="middle" fill="#1a1a1a" stroke="#1a1a1a" stroke-width="0.200">3000</text>
<text transform="translate(315.14 417.30) scale(1 1.0)" font-size="10" text-anchor="middle" fill="#1a1a1a" stroke="#1a1a1a" stroke-width="0.200">3500</text>
<text transform="translate(40.30 398.82) scale(1 1.0)" font-size="10" text-anchor="end" fill="#1a1a1a" stroke="#1a1a1a" stroke-width="0.200">-0.006</text>
<text transform="translate(40.30 380.58) scale(1 1.0)" font-size="10" text-anchor="end" fill="#1a1a1a" stroke="#1a1a1a" stroke-width="0.200">-0.004</text>
<text transform="translate(40.30 362.34) scale(1 1.0)" font-size="10" text-anchor="end" fill="#1a1a1a" stroke="#1a1a1a" stroke-width="0.200">-0.002</text>
<text transform="translate(40.30 344.10) scale(1 1.0)" font-size="10" text-anchor="end" fill="#1a1a1a" stroke="#1a1a1a" stroke-width="0.200">0.000</text>
<text transform="translate(40.30 325.86) scale(1 1.0)" font-size="10" text-anchor="end" fill="#1a1a1a" stroke="#1a1a1a" stroke-width="0.200">0.002</text>
<text transform="translate(40.30 307.62) scale(1 1.0)" font-size="10" text-anchor="end" fill="#1a1a1a" stroke="#1a1a1a" stroke-width="0.200">0.004</text>
<text transform="translate(40.30 289.38) scale(1 1.0)" font-size="10" text-anchor="end" fill="#1a1a1a" stroke="#1a1a1a" stroke-width="0.200">0.006</text>
<text transform="translate(195.60 430.60) scale(1 1.05)" font-size="11.4" text-anchor="middle" fill="#1a1a1a" stroke="#1a1a1a" stroke-width="0.285">Time (s)</text>
<text transform="translate(14.60 345.00) rotate(-90) scale(1.13 1)" font-size="11" text-anchor="middle" fill="#1a1a1a" stroke="#1a1a1a" stroke-width="0.154">ΔR/R<tspan font-size="7.3" dy="2.3">0</tspan></text>
<text transform="translate(285.30 306.00) scale(1 1.13)" font-size="12.5" text-anchor="start" fill="#1a1a1a" stroke="#1a1a1a" stroke-width="0.312">2% strain</text>
<text transform="translate(8.20 290.60) scale(1 1.0)" font-size="15.5" text-anchor="start" fill="#1a1a1a" stroke="#1a1a1a" stroke-width="0.186">g</text>
<polyline points="400.10,382.43 400.25,384.22 400.41,385.09 400.56,385.33 400.72,386.23 400.87,385.75 401.02,385.36 401.18,387.19 401.33,386.23 401.48,385.99 401.64,385.25 401.79,384.10 401.95,383.29 402.10,381.08 402.25,379.73 402.41,376.25 402.56,373.95 402.71,372.61 402.87,371.25 403.02,368.77 403.18,367.22 403.33,364.86 403.48,362.07 403.64,358.72 403.79,356.16 403.94,353.88 404.10,349.98 404.25,347.24 404.41,344.47 404.56,341.70 404.71,338.88 404.87,336.52 405.02,332.71 405.18,330.22 405.33,328.14 405.48,324.34 405.64,322.02 405.79,319.68 405.94,315.62 406.10,313.70 406.25,310.55 406.41,308.15 406.56,304.66 406.71,304.32 406.87,306.78 407.02,309.46 407.17,312.43 407.33,315.61 407.48,318.87 407.64,320.96 407.79,324.86 407.94,327.60 408.10,330.11 408.25,333.27 408.40,335.85 408.56,339.37 408.71,342.05 408.87,345.25 409.02,347.53 409.17,350.67 409.33,352.71 409.48,356.39 409.64,359.35 409.79,361.45 409.94,365.00 410.10,366.67 410.25,369.19 410.40,371.23 410.56,371.72 410.71,373.04 410.87,376.49 411.02,378.87 411.17,381.26 411.33,382.45 411.48,383.68 411.63,385.96 411.79,386.21 411.94,386.11 412.10,386.98 412.25,386.97 412.40,386.44 412.56,386.97 412.71,386.46 412.86,384.55 413.02,384.38 413.17,383.11 413.33,381.29 413.48,378.74 413.63,375.84 413.79,374.47 413.94,371.82 414.10,371.42 414.25,369.25 414.40,366.92 414.56,364.90 414.71,362.31 414.86,358.78 415.02,356.17 415.17,353.01 415.33,350.70 415.48,348.19 415.63,344.79 415.79,342.24 415.94,340.10 416.09,337.07 416.25,333.03 416.40,330.63 416.56,328.67 416.71,324.79 416.86,321.94 417.02,320.11 417.17,315.91 417.32,314.24 417.48,310.92 417.63,307.78 417.79,305.25 417.94,304.75 418.09,307.41 418.25,310.03 418.40,312.41 418.56,315.36 418.71,318.05 418.86,321.16 419.02,324.48 419.17,327.50 419.32,329.55 419.48,332.38 419.63,336.11 419.79,338.26 419.94,341.74 420.09,345.00 420.25,347.25 420.40,349.48 420.55,352.85 420.71,355.29 420.86,358.10 421.02,360.99 421.17,364.49 421.32,366.21 421.48,369.49 421.63,370.39 421.78,372.26 421.94,373.51 422.09,375.18 422.25,378.01 422.40,380.16 422.55,382.58 422.71,383.94 422.86,385.41 423.02,385.67 423.17,385.58 423.32,386.72 423.48,386.11 423.63,385.93 423.78,384.96 423.94,385.39 424.09,383.63 424.25,383.99 424.40,382.89 424.55,380.58 424.71,378.08 424.86,375.52 425.01,373.42 425.17,371.11 425.32,370.55 425.48,369.05 425.63,367.25 425.78,364.92 425.94,362.49 426.09,359.47 426.24,356.20 426.40,353.31 426.55,350.91 426.71,347.72 426.86,345.32 427.01,341.84 427.17,340.19 427.32,336.30 427.48,333.32 427.63,330.98 427.78,328.11 427.94,324.81 428.09,323.22 428.24,320.50 428.40,317.11 428.55,314.00 428.71,311.48 428.86,308.75 429.01,306.03 429.17,304.92 429.32,307.11 429.47,311.07 429.63,313.02 429.78,316.63 429.94,318.35 430.09,321.98 430.24,324.00 430.40,327.49 430.55,329.83 430.70,332.81 430.86,334.96 431.01,338.45 431.17,341.19 431.32,344.00 431.47,347.16 431.63,348.96 431.78,352.62 431.94,355.69 432.09,358.40 432.24,360.45 432.40,362.93 432.55,365.94 432.70,367.51 432.86,370.06 433.01,370.32 433.17,372.09 433.32,375.21 433.47,378.08 433.63,380.02 433.78,381.85 433.93,383.05 434.09,383.68 434.24,385.11 434.40,385.60 434.55,385.82 434.70,386.20 434.86,387.01 435.01,386.53 435.17,386.56 435.32,386.12 435.47,384.41 435.63,384.20 435.78,381.50 435.93,379.68 436.09,377.59 436.24,375.31 436.40,372.16 436.55,372.01 436.70,369.63 436.86,368.11 437.01,365.46 437.16,363.45 437.32,359.88 437.47,357.74 437.63,354.44 437.78,351.07 437.93,348.77 438.09,346.57 438.24,343.63 438.39,340.56 438.55,337.13 438.70,334.35 438.86,332.11 439.01,329.00 439.16,326.51 439.32,323.48 439.47,320.91 439.63,317.18 439.78,315.17 439.93,312.43 440.09,309.16 440.24,306.91 440.39,305.60 440.55,307.94 440.70,310.22 440.86,313.71 441.01,316.66 441.16,319.47 441.32,321.85 441.47,325.16 441.62,327.60 441.78,330.46 441.93,333.97 442.09,336.39 442.24,338.50 442.39,342.20 442.55,344.25 442.70,348.05 442.85,350.28 443.01,353.20 443.16,355.70 443.32,359.46 443.47,362.11 443.62,364.47 443.78,366.36 443.93,369.11 444.09,370.15 444.24,371.87 444.39,372.79 444.55,376.40 444.70,377.97 444.85,381.32 445.01,383.25 445.16,384.15 445.32,385.30 445.47,385.21 445.62,385.84 445.78,386.50 445.93,387.34 446.08,386.60 446.24,386.06 446.39,385.81 446.55,385.33 446.70,384.52 446.85,383.32 447.01,381.73 447.16,379.87 447.31,376.95 447.47,373.41 447.62,371.58 447.78,370.55 447.93,368.75 448.08,366.99 448.24,365.83 448.39,363.19 448.55,359.99 448.70,356.88 448.85,353.39 449.01,351.97 449.16,348.18 449.31,345.23 449.47,343.17 449.62,339.62 449.78,336.66 449.93,334.95 450.08,331.32 450.24,328.76 450.39,325.51 450.54,323.59 450.70,320.03 450.85,318.14 451.01,315.29 451.16,311.90 451.31,309.20 451.47,306.26 451.62,304.72 451.77,306.41 451.93,310.07 452.08,312.77 452.24,315.79 452.39,317.86 452.54,321.71 452.70,323.43 452.85,327.31 453.01,329.15 453.16,332.61 453.31,335.19 453.47,338.53 453.62,340.51 453.77,344.19 453.93,346.20 454.08,349.20 454.24,351.68 454.39,354.37 454.54,357.46 454.70,361.18 454.85,363.02 455.00,366.69 455.16,367.86 455.31,369.29 455.47,371.66 455.62,373.33 455.77,374.46 455.93,377.82 456.08,379.85 456.23,381.56 456.39,382.76 456.54,384.38 456.70,384.67 456.85,385.13 457.00,385.69 457.16,386.43 457.31,385.98 457.47,386.48 457.62,385.38 457.77,385.52 457.93,384.57 458.08,384.13 458.23,382.54 458.39,379.29 458.54,377.38 458.70,374.37 458.85,372.72 459.00,371.00 459.16,370.04 459.31,368.87 459.46,366.32 459.62,363.20 459.77,361.14 459.93,357.23 460.08,355.71 460.23,352.20 460.39,348.98 460.54,346.40 460.69,344.46 460.85,341.73 461.00,338.08 461.16,335.73 461.31,333.39 461.46,330.57 461.62,327.01 461.77,325.14 461.93,321.98 462.08,318.26 462.23,316.47 462.39,312.82 462.54,311.22 462.69,308.19 462.85,306.19 463.00,308.00 463.16,311.02 463.31,313.51 463.46,316.23 463.62,319.14 463.77,322.81 463.92,325.09 464.08,328.49 464.23,330.17 464.39,333.56 464.54,336.22 464.69,338.39 464.85,341.03 465.00,344.37 465.15,347.46 465.31,349.55 465.46,352.37 465.62,356.06 465.77,358.50 465.92,360.57 466.08,363.25 466.23,365.97 466.39,368.78 466.54,370.84 466.69,371.01 466.85,373.46 467.00,375.06 467.15,378.03 467.31,379.88 467.46,382.51 467.62,383.89 467.77,384.23 467.92,385.17 468.08,385.34 468.23,386.97 468.38,387.13 468.54,385.61 468.69,385.67 468.85,384.70 469.00,384.72 469.15,384.52 469.31,382.83 469.46,381.69 469.61,378.86 469.77,376.26 469.92,373.53 470.08,372.52 470.23,370.46 470.38,369.72 470.54,366.89 470.69,365.78 470.85,362.39 471.00,359.51 471.15,357.45 471.31,354.08 471.46,351.94 471.61,349.22 471.77,346.07 471.92,343.55 472.08,340.22 472.23,337.06 472.38,333.89 472.54,332.03 472.69,328.91 472.84,325.79 473.00,323.51 473.15,320.70 473.31,317.80 473.46,314.32 473.61,312.19 473.77,308.79 473.92,306.87 474.07,304.01 474.23,306.85 474.38,309.76 474.54,312.67 474.69,315.14 474.84,317.36 475.00,320.39 475.15,322.73 475.31,326.52 475.46,329.35 475.61,332.25 475.77,334.71 475.92,338.05 476.07,339.89 476.23,343.25 476.38,346.61 476.54,348.76 476.69,351.68 476.84,354.84 477.00,357.49 477.15,359.77 477.30,362.08 477.46,365.30 477.61,368.07 477.77,370.05 477.92,370.89 478.07,372.45 478.23,374.33 478.38,376.96 478.53,379.76 478.69,381.93 478.84,382.26 479.00,383.28 479.15,384.39 479.30,384.68 479.46,385.59 479.61,385.53 479.77,386.68 479.92,386.17 480.07,385.52 480.23,385.14 480.38,384.23 480.53,383.45 480.69,382.40 480.84,379.74 481.00,377.06 481.15,375.34 481.30,373.30 481.46,372.09 481.61,370.50 481.76,368.94 481.92,366.65 482.07,364.05 482.23,361.06 482.38,358.47 482.53,354.52 482.69,353.00 482.84,350.27 482.99,346.15 483.15,344.12 483.30,340.79 483.46,338.60 483.61,336.23 483.76,333.38 483.92,329.30 484.07,327.75 484.23,324.37 484.38,321.83 484.53,318.47 484.69,316.05 484.84,312.62 484.99,310.66 485.15,307.39 485.30,303.95 485.46,307.21 485.61,309.41 485.76,313.52 485.92,315.13 486.07,318.64 486.22,320.58 486.38,323.81 486.53,327.26 486.69,329.33 486.84,333.01 486.99,335.30 487.15,337.80 487.30,341.43 487.45,344.40 487.61,346.08 487.76,349.83 487.92,351.81 488.07,355.04 488.22,358.24 488.38,360.09 488.53,363.56 488.69,366.39 488.84,367.77 488.99,369.33 489.15,371.54 489.30,372.02 489.45,375.36 489.61,377.02 489.76,379.90 489.92,382.43 490.07,383.67 490.22,384.85 490.38,385.14 490.53,386.10 490.68,386.49 490.84,386.35 490.99,387.18 491.15,387.38 491.30,386.42 491.45,385.32 491.61,385.45 491.76,384.38 491.91,382.05 492.07,381.18 492.22,377.51 492.38,375.78 492.53,373.72 492.68,371.50 492.84,370.02 492.99,369.02 493.15,367.08 493.30,364.65 493.45,362.06 493.61,358.25 493.76,355.39 493.91,353.20 494.07,350.16 494.22,346.93 494.38,344.22 494.53,341.44 494.68,338.29 494.84,336.45 494.99,332.59 495.14,330.28 495.30,327.92 495.45,324.59 495.61,322.32 495.76,319.36 495.91,315.96 496.07,313.17 496.22,310.66 496.37,307.55 496.53,304.66 496.68,307.58 496.84,310.84 496.99,312.40 497.14,316.48 497.30,318.73 497.45,322.04 497.61,324.22 497.76,326.67 497.91,330.56 498.07,332.70 498.22,335.64 498.37,338.07 498.53,340.55 498.68,343.68 498.84,347.37 498.99,349.76 499.14,352.40 499.30,355.65 499.45,357.45 499.60,360.97 499.76,363.75 499.91,366.64 500.07,368.51 500.22,369.86 500.37,372.13 500.53,372.95 500.68,375.28 500.83,378.24 500.99,380.36 501.14,382.10 501.30,383.63 501.45,384.17 501.60,385.41 501.76,385.69 501.91,386.40 502.07,386.67 502.22,385.67 502.37,385.56 502.53,385.36 502.68,385.42 502.83,384.73 502.99,382.89 503.14,382.73 503.30,380.30 503.45,377.17 503.60,375.26 503.76,372.74 503.91,371.44 504.06,369.79 504.22,367.94 504.37,366.88 504.53,363.76 504.68,360.36 504.83,358.20 504.99,354.59 505.14,352.81 505.30,349.67 505.45,347.34 505.60,343.54 505.76,341.30 505.91,338.00 506.06,335.39 506.22,333.20 506.37,329.55 506.53,327.88 506.68,323.84 506.83,321.24 506.99,319.22 507.14,315.94 507.29,313.46 507.45,310.49 507.60,307.00 507.76,304.91 507.91,306.57 508.06,310.14 508.22,312.93 508.37,315.12 508.52,318.00 508.68,320.07 508.83,323.39 508.99,325.74 509.14,328.99 509.29,331.28 509.45,334.96 509.60,338.19 509.76,339.95 509.91,342.89 510.06,346.35 510.22,349.12 510.37,351.56 510.52,353.74 510.68,356.88 510.83,360.02 510.99,362.59 511.14,365.60 511.29,367.89 511.45,369.97 511.60,370.52 511.75,372.83 511.91,374.09 512.06,377.32 512.22,379.86 512.37,381.09 512.52,382.47 512.68,384.09 512.83,384.27 512.98,385.26 513.14,385.92 513.29,386.06 513.45,387.32 513.60,387.04 513.75,385.76 513.91,385.76 514.06,384.17 514.22,384.21 514.37,382.84 514.52,381.08 514.68,377.59 514.83,375.45 514.98,373.59 515.14,372.32 515.29,370.35 515.45,369.64 515.60,366.29 515.75,364.71 515.91,361.10 516.06,358.17 516.21,356.20 516.37,352.98 516.52,350.04 516.68,347.57 516.83,344.84 516.98,341.36 517.14,339.47 517.29,336.23 517.44,334.24 517.60,330.63 517.75,327.26 517.91,325.29 518.06,322.01 518.21,319.80 518.37,316.93 518.52,314.11 518.68,310.61 518.83,308.62 518.98,306.22 519.14,306.96 519.29,309.70 519.44,312.47 519.60,315.46 519.75,318.50 519.91,320.70 520.06,324.16 520.21,326.94 520.37,329.86 520.52,332.83 520.67,335.41 520.83,337.53 520.98,340.73 521.14,343.44 521.29,346.56 521.44,349.32 521.60,351.49 521.75,353.93 521.90,357.87 522.06,359.87 522.21,362.25 522.37,365.54 522.52,367.43 522.67,370.27 522.83,370.70 522.98,372.98 523.14,374.75 523.29,377.49 523.44,380.27 523.60,381.34 523.75,383.49 523.90,384.60 524.06,384.92 524.21,386.24 524.37,385.80 524.52,387.02 524.67,385.39 524.83,385.40 524.98,385.61 525.13,384.46 525.29,383.87 525.44,382.75 525.60,382.39 525.75,380.40 525.90,378.15 526.06,375.26 526.21,372.78 526.36,370.75 526.52,370.30 526.67,368.48 526.83,366.80 526.98,363.99 527.13,361.83 527.29,358.34 527.44,355.45 527.60,352.69 527.75,349.51 527.90,347.22 528.06,344.78 528.21,341.02 528.36,339.02 528.52,336.53 528.67,333.28 528.83,330.22 528.98,328.05 529.13,325.31 529.29,322.74 529.44,319.27 529.59,316.74 529.75,313.34 529.90,311.47 530.06,308.03 530.21,305.90 530.36,306.91 530.52,309.82 530.67,311.84 530.82,314.51 530.98,317.72 531.13,319.95 531.29,322.78 531.44,325.47 531.59,328.58 531.75,331.65 531.90,334.49 532.06,336.73 532.21,340.24 532.36,343.11 532.52,344.81 532.67,347.69 532.82,350.89 532.98,353.42 533.13,357.33 533.29,359.08 533.44,362.11 533.59,365.23 533.75,367.67 533.90,368.94 534.05,369.92 534.21,371.45 534.36,374.32 534.52,376.08 534.67,379.09 534.82,381.44 534.98,383.29 535.13,383.69 535.28,385.00 535.44,385.54 535.59,385.76 535.75,385.44 535.90,386.94 536.05,386.38 536.21,385.96 536.36,385.29 536.52,384.44 536.67,384.38 536.82,382.18 536.98,381.52 537.13,378.58 537.28,375.47 537.44,372.85 537.59,371.98 537.75,370.26 537.90,368.75 538.05,367.62 538.21,364.04 538.36,361.15 538.51,359.35" fill="none" stroke="#1a72e0" stroke-width="1.3" stroke-linejoin="round"/>
<rect x="400.10" y="286.90" width="138.50" height="116.90" fill="none" stroke="#3a3a3a" stroke-width="0.9"/>
<line x1="400.10" y1="403.80" x2="400.10" y2="401.60" stroke="#3a3a3a" stroke-width="0.7"/>
<line x1="427.95" y1="403.80" x2="427.95" y2="401.60" stroke="#3a3a3a" stroke-width="0.7"/>
<line x1="455.80" y1="403.80" x2="455.80" y2="401.60" stroke="#3a3a3a" stroke-width="0.7"/>
<line x1="483.65" y1="403.80" x2="483.65" y2="401.60" stroke="#3a3a3a" stroke-width="0.7"/>
<line x1="511.50" y1="403.80" x2="511.50" y2="401.60" stroke="#3a3a3a" stroke-width="0.7"/>
<line x1="539.35" y1="403.80" x2="539.35" y2="401.60" stroke="#3a3a3a" stroke-width="0.7"/>
<line x1="414.03" y1="403.80" x2="414.03" y2="402.50" stroke="#3a3a3a" stroke-width="0.7"/>
<line x1="441.88" y1="403.80" x2="441.88" y2="402.50" stroke="#3a3a3a" stroke-width="0.7"/>
<line x1="469.73" y1="403.80" x2="469.73" y2="402.50" stroke="#3a3a3a" stroke-width="0.7"/>
<line x1="497.58" y1="403.80" x2="497.58" y2="402.50" stroke="#3a3a3a" stroke-width="0.7"/>
<line x1="525.43" y1="403.80" x2="525.43" y2="402.50" stroke="#3a3a3a" stroke-width="0.7"/>
<line x1="400.10" y1="286.90" x2="402.30" y2="286.90" stroke="#3a3a3a" stroke-width="0.7"/>
<line x1="400.10" y1="304.90" x2="402.30" y2="304.90" stroke="#3a3a3a" stroke-width="0.7"/>
<line x1="400.10" y1="322.90" x2="402.30" y2="322.90" stroke="#3a3a3a" stroke-width="0.7"/>
<line x1="400.10" y1="340.90" x2="402.30" y2="340.90" stroke="#3a3a3a" stroke-width="0.7"/>
<line x1="400.10" y1="358.90" x2="402.30" y2="358.90" stroke="#3a3a3a" stroke-width="0.7"/>
<line x1="400.10" y1="376.90" x2="402.30" y2="376.90" stroke="#3a3a3a" stroke-width="0.7"/>
<line x1="400.10" y1="394.90" x2="402.30" y2="394.90" stroke="#3a3a3a" stroke-width="0.7"/>
<line x1="400.10" y1="295.90" x2="401.40" y2="295.90" stroke="#3a3a3a" stroke-width="0.7"/>
<line x1="400.10" y1="313.90" x2="401.40" y2="313.90" stroke="#3a3a3a" stroke-width="0.7"/>
<line x1="400.10" y1="331.90" x2="401.40" y2="331.90" stroke="#3a3a3a" stroke-width="0.7"/>
<line x1="400.10" y1="349.90" x2="401.40" y2="349.90" stroke="#3a3a3a" stroke-width="0.7"/>
<line x1="400.10" y1="367.90" x2="401.40" y2="367.90" stroke="#3a3a3a" stroke-width="0.7"/>
<line x1="400.10" y1="385.90" x2="401.40" y2="385.90" stroke="#3a3a3a" stroke-width="0.7"/>
<line x1="400.10" y1="403.90" x2="401.40" y2="403.90" stroke="#3a3a3a" stroke-width="0.7"/>
<text transform="translate(400.10 412.30) scale(1 1.13)" font-size="6.1" text-anchor="middle" fill="#1a1a1a" stroke="#1a1a1a" stroke-width="0.085">3250</text>
<text transform="translate(427.95 412.30) scale(1 1.13)" font-size="6.1" text-anchor="middle" fill="#1a1a1a" stroke="#1a1a1a" stroke-width="0.085">3260</text>
<text transform="translate(455.80 412.30) scale(1 1.13)" font-size="6.1" text-anchor="middle" fill="#1a1a1a" stroke="#1a1a1a" stroke-width="0.085">3270</text>
<text transform="translate(483.65 412.30) scale(1 1.13)" font-size="6.1" text-anchor="middle" fill="#1a1a1a" stroke="#1a1a1a" stroke-width="0.085">3280</text>
<text transform="translate(511.50 412.30) scale(1 1.13)" font-size="6.1" text-anchor="middle" fill="#1a1a1a" stroke="#1a1a1a" stroke-width="0.085">3290</text>
<text transform="translate(539.35 412.30) scale(1 1.13)" font-size="6.1" text-anchor="middle" fill="#1a1a1a" stroke="#1a1a1a" stroke-width="0.085">3300</text>
<text transform="translate(397.60 288.80) scale(1 1.13)" font-size="5.6" text-anchor="end" fill="#1a1a1a" stroke="#1a1a1a" stroke-width="0.078">0.000</text>
<text transform="translate(397.60 306.80) scale(1 1.13)" font-size="5.6" text-anchor="end" fill="#1a1a1a" stroke="#1a1a1a" stroke-width="0.078">-0.001</text>
<text transform="translate(397.60 324.80) scale(1 1.13)" font-size="5.6" text-anchor="end" fill="#1a1a1a" stroke="#1a1a1a" stroke-width="0.078">-0.002</text>
<text transform="translate(397.60 342.80) scale(1 1.13)" font-size="5.6" text-anchor="end" fill="#1a1a1a" stroke="#1a1a1a" stroke-width="0.078">-0.003</text>
<text transform="translate(397.60 360.80) scale(1 1.13)" font-size="5.6" text-anchor="end" fill="#1a1a1a" stroke="#1a1a1a" stroke-width="0.078">-0.004</text>
<text transform="translate(397.60 378.80) scale(1 1.13)" font-size="5.6" text-anchor="end" fill="#1a1a1a" stroke="#1a1a1a" stroke-width="0.078">-0.005</text>
<text transform="translate(397.60 396.80) scale(1 1.13)" font-size="5.6" text-anchor="end" fill="#1a1a1a" stroke="#1a1a1a" stroke-width="0.078">-0.006</text>
<text transform="translate(461.40 423.20) scale(1 1.13)" font-size="7" text-anchor="middle" fill="#1a1a1a" stroke="#1a1a1a" stroke-width="0.098">Time (s)</text>
<text transform="translate(380.30 347.40) rotate(-90) scale(1.0 1)" font-size="7" text-anchor="middle" fill="#1a1a1a" stroke="#1a1a1a" stroke-width="0.098">ΔR/R<tspan font-size="4.6" dy="1.5">0</tspan></text>
<rect x="296.2" y="343.6" width="5.7" height="51.9" fill="none" stroke="#18b0ee" stroke-width="1.5" stroke-dasharray="4.6,2.1"/>
<line x1="302.00" y1="343.60" x2="400.10" y2="286.90" stroke="#18b0ee" stroke-width="2.0" stroke-dasharray="7,3.6"/>
<line x1="296.20" y1="395.50" x2="400.10" y2="404.00" stroke="#18b0ee" stroke-width="2.0" stroke-dasharray="7,3.6"/>
<rect x="370.8" y="286.5" width="13.8" height="14.8" fill="#fff"/>
<text transform="translate(372.00 299.00) scale(1 1.0)" font-size="15" text-anchor="start" fill="#1a1a1a" stroke="#1a1a1a" stroke-width="0.180">h</text>
</svg></body></html>
